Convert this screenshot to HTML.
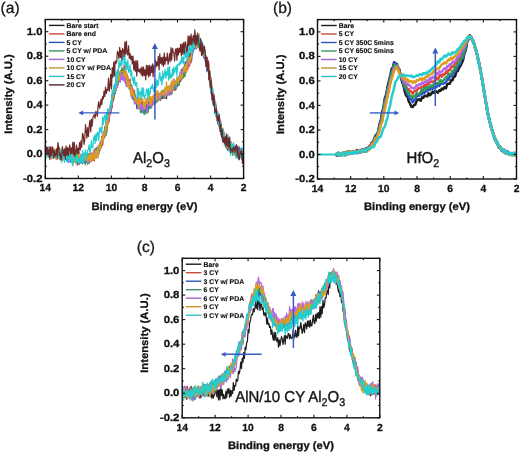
<!DOCTYPE html>
<html><head><meta charset="utf-8"><title>XPS valence band spectra</title>
<style>html,body{margin:0;padding:0;background:#fff;width:520px;height:452px;overflow:hidden}svg{display:block}</style></head><body>
<svg width="520" height="452" viewBox="0 0 520 452">
<style>
text{font-family:"Liberation Sans", sans-serif;fill:#111;text-rendering:geometricPrecision}
.tl{font-size:10.3px;font-weight:bold;stroke:#111;stroke-width:0.3px}
.at{font-size:10.8px;font-weight:bold;stroke:#111;stroke-width:0.3px}
.lg{font-size:6.85px;font-weight:bold;stroke:#111;stroke-width:0.15px}
.pl{font-size:15.6px;fill:#1a1a1a;stroke:#1a1a1a;stroke-width:0.3px}
.ann{font-size:15.7px;fill:#161616;stroke:#161616;stroke-width:0.4px}
</style>
<rect width="520" height="452" fill="#fff"/>
<clipPath id="clipa"><rect x="45.3" y="19.5" width="198.3" height="159.0"/></clipPath>
<clipPath id="clipb"><rect x="317.5" y="19.6" width="199.0" height="159.4"/></clipPath>
<clipPath id="clipc"><rect x="182.2" y="258.3" width="197.6" height="159.5"/></clipPath>
<g clip-path="url(#clipa)"><polyline points="45.3,148.7 46.0,153.7 46.8,147.7 47.5,153.5 48.3,147.8 49.0,153.3 49.8,147.8 50.5,155.0 51.2,151.9 52.0,153.8 52.7,150.3 53.5,158.0 54.2,152.8 55.0,151.4 55.7,157.4 56.5,149.3 57.2,158.8 57.9,150.7 58.7,158.4 59.4,150.4 60.2,151.8 60.9,151.2 61.7,155.0 62.4,152.3 63.1,158.2 63.9,154.5 64.6,159.7 65.4,157.7 66.1,159.6 66.9,155.2 67.6,157.6 68.4,153.2 69.1,161.4 69.8,152.3 70.6,161.6 71.3,153.5 72.1,158.7 72.8,157.6 73.6,160.8 74.3,154.6 75.0,159.2 75.8,156.2 76.5,160.7 77.3,155.7 78.0,163.3 78.8,156.4 79.5,164.1 80.3,155.5 81.0,157.3 81.7,161.4 82.5,157.7 83.2,156.6 84.0,161.9 84.7,162.1 85.5,157.0 86.2,162.2 86.9,160.9 87.7,153.9 88.4,158.8 89.2,154.0 89.9,159.1 90.7,153.5 91.4,159.5 92.1,154.7 92.9,160.1 93.6,152.8 94.4,156.1 95.1,152.6 95.9,155.9 96.6,151.4 97.4,155.5 98.1,152.8 98.8,146.3 99.6,150.2 100.3,143.7 101.1,147.7 101.8,136.3 102.6,136.1 103.3,139.3 104.0,135.1 104.8,134.9 105.5,132.7 106.3,124.9 107.0,128.3 107.8,123.0 108.5,113.0 109.3,113.9 110.0,110.1 110.7,112.2 111.5,106.0 112.2,103.7 113.0,97.9 113.7,97.5 114.5,87.5 115.2,93.5 115.9,82.0 116.7,83.0 117.4,77.2 118.2,78.7 118.9,82.1 119.7,79.1 120.4,71.5 121.1,77.2 121.9,70.9 122.6,76.4 123.4,69.3 124.1,74.2 124.9,71.0 125.6,83.1 126.4,72.0 127.1,77.3 127.8,80.9 128.6,82.1 129.3,87.3 130.1,89.1 130.8,88.0 131.6,85.0 132.3,95.7 133.0,92.3 133.8,91.7 134.5,102.1 135.3,98.9 136.0,103.1 136.8,102.1 137.5,103.2 138.3,107.2 139.0,99.9 139.7,100.6 140.5,108.0 141.2,102.8 142.0,111.0 142.7,102.6 143.5,110.1 144.2,102.4 144.9,113.0 145.7,105.0 146.4,110.5 147.2,104.1 147.9,112.2 148.7,101.9 149.4,98.8 150.2,106.0 150.9,99.0 151.6,103.4 152.4,98.8 153.1,98.5 153.9,102.8 154.6,101.6 155.4,103.0 156.1,97.0 156.8,99.8 157.6,93.8 158.3,97.3 159.1,99.9 159.8,93.4 160.6,96.9 161.3,96.0 162.0,97.7 162.8,91.6 163.5,97.7 164.3,91.3 165.0,98.2 165.8,90.9 166.5,98.4 167.3,90.9 168.0,86.7 168.7,93.5 169.5,86.2 170.2,92.4 171.0,87.6 171.7,93.2 172.5,85.8 173.2,88.9 173.9,85.5 174.7,82.6 175.4,89.9 176.2,86.3 176.9,81.2 177.7,78.9 178.4,83.7 179.2,82.7 179.9,80.2 180.6,81.4 181.4,69.9 182.1,75.3 182.9,70.0 183.6,77.1 184.4,65.7 185.1,66.8 185.8,62.8 186.6,70.0 187.3,64.4 188.1,58.4 188.8,64.8 189.6,53.3 190.3,60.7 191.1,58.4 191.8,47.3 192.5,52.7 193.3,45.7 194.0,49.7 194.8,46.3 195.5,38.8 196.3,48.0 197.0,38.6 197.7,39.4 198.5,46.4 199.2,45.7 200.0,38.3 200.7,49.1 201.5,46.1 202.2,45.6 202.9,51.7 203.7,54.5 204.4,48.7 205.2,58.4 205.9,59.0 206.7,65.5 207.4,62.2 208.2,70.4 208.9,70.9 209.6,70.3 210.4,85.6 211.1,82.9 211.9,92.0 212.6,92.9 213.4,102.9 214.1,100.0 214.8,107.7 215.6,104.3 216.3,113.2 217.1,112.6 217.8,122.1 218.6,125.6 219.3,115.9 220.1,128.9 220.8,125.8 221.5,134.8 222.3,130.2 223.0,139.0 223.8,132.7 224.5,142.7 225.3,138.8 226.0,147.3 226.7,138.2 227.5,149.6 228.2,142.1 229.0,145.7 229.7,141.4 230.5,148.2 231.2,144.8 231.9,150.6 232.7,152.5 233.4,151.1 234.2,152.2 234.9,146.9 235.7,147.4 236.4,154.4 237.2,148.7 237.9,155.2 238.6,149.8 239.4,156.2 240.1,154.4 240.9,154.2 241.6,157.5 242.4,150.1 243.1,155.8" fill="none" stroke="#1c1c1c" stroke-width="1.2" stroke-linejoin="round"/><polyline points="45.3,153.6 46.0,154.1 46.8,148.4 47.5,152.8 48.3,146.9 49.0,155.8 49.8,148.9 50.5,154.5 51.2,146.6 52.0,155.2 52.7,148.2 53.5,156.7 54.2,149.7 55.0,150.4 55.7,154.3 56.5,159.3 57.2,150.8 57.9,148.3 58.7,157.6 59.4,156.6 60.2,153.7 60.9,157.9 61.7,152.4 62.4,155.7 63.1,153.8 63.9,150.7 64.6,152.5 65.4,156.1 66.1,152.8 66.9,159.1 67.6,154.4 68.4,159.9 69.1,152.2 69.8,158.9 70.6,151.6 71.3,159.1 72.1,153.3 72.8,159.9 73.6,153.5 74.3,160.6 75.0,154.4 75.8,162.8 76.5,153.8 77.3,165.5 78.0,154.8 78.8,164.4 79.5,156.1 80.3,159.8 81.0,158.7 81.7,160.4 82.5,156.3 83.2,159.7 84.0,155.8 84.7,162.9 85.5,161.7 86.2,154.5 86.9,159.2 87.7,153.6 88.4,160.0 89.2,163.0 89.9,157.4 90.7,154.5 91.4,158.3 92.1,152.5 92.9,160.6 93.6,155.2 94.4,161.0 95.1,155.7 95.9,148.2 96.6,157.9 97.4,152.4 98.1,154.1 98.8,145.9 99.6,149.2 100.3,142.3 101.1,147.2 101.8,139.0 102.6,145.4 103.3,136.4 104.0,138.9 104.8,129.5 105.5,136.1 106.3,125.8 107.0,131.4 107.8,121.9 108.5,123.0 109.3,120.7 110.0,111.7 110.7,113.6 111.5,104.5 112.2,108.1 113.0,98.4 113.7,100.2 114.5,92.3 115.2,89.1 115.9,90.9 116.7,87.5 117.4,80.7 118.2,82.0 118.9,73.7 119.7,77.2 120.4,70.3 121.1,71.4 121.9,72.4 122.6,68.7 123.4,72.7 124.1,64.8 124.9,69.7 125.6,71.4 126.4,75.3 127.1,74.9 127.8,82.8 128.6,79.9 129.3,84.0 130.1,78.7 130.8,92.1 131.6,94.7 132.3,88.2 133.0,89.0 133.8,96.3 134.5,90.3 135.3,100.7 136.0,97.7 136.8,105.2 137.5,93.5 138.3,103.3 139.0,103.2 139.7,105.2 140.5,97.5 141.2,101.7 142.0,109.4 142.7,100.9 143.5,109.9 144.2,103.4 144.9,102.7 145.7,101.0 146.4,105.9 147.2,98.2 147.9,108.2 148.7,102.6 149.4,106.1 150.2,104.5 150.9,100.8 151.6,102.9 152.4,98.6 153.1,104.4 153.9,97.0 154.6,105.7 155.4,95.6 156.1,101.1 156.8,96.7 157.6,101.2 158.3,95.4 159.1,99.7 159.8,94.4 160.6,100.5 161.3,92.0 162.0,94.6 162.8,98.5 163.5,93.0 164.3,95.7 165.0,88.6 165.8,92.4 166.5,89.8 167.3,93.6 168.0,90.0 168.7,94.9 169.5,86.1 170.2,92.1 171.0,84.2 171.7,94.2 172.5,81.6 173.2,90.1 173.9,82.0 174.7,90.2 175.4,86.8 176.2,82.0 176.9,86.3 177.7,80.3 178.4,83.5 179.2,78.3 179.9,80.8 180.6,75.2 181.4,79.9 182.1,78.6 182.9,72.6 183.6,76.6 184.4,73.4 185.1,66.7 185.8,71.9 186.6,62.0 187.3,70.2 188.1,68.3 188.8,61.4 189.6,66.2 190.3,56.3 191.1,63.0 191.8,54.2 192.5,49.5 193.3,45.3 194.0,49.5 194.8,45.5 195.5,45.5 196.3,48.7 197.0,44.6 197.7,43.4 198.5,43.9 199.2,36.8 200.0,44.6 200.7,45.1 201.5,46.1 202.2,44.1 202.9,54.0 203.7,46.4 204.4,56.7 205.2,54.3 205.9,56.1 206.7,60.9 207.4,57.7 208.2,70.1 208.9,62.7 209.6,75.9 210.4,78.7 211.1,77.5 211.9,86.9 212.6,94.6 213.4,93.4 214.1,97.5 214.8,107.3 215.6,102.2 216.3,110.9 217.1,113.3 217.8,113.1 218.6,118.7 219.3,116.3 220.1,124.5 220.8,121.0 221.5,133.1 222.3,128.7 223.0,136.8 223.8,132.3 224.5,140.1 225.3,136.9 226.0,143.1 226.7,136.8 227.5,146.5 228.2,138.4 229.0,145.8 229.7,142.2 230.5,145.1 231.2,146.4 231.9,144.5 232.7,150.9 233.4,142.9 234.2,151.1 234.9,151.8 235.7,146.6 236.4,154.6 237.2,149.0 237.9,156.8 238.6,149.4 239.4,154.3 240.1,153.5 240.9,151.7 241.6,158.2 242.4,151.9 243.1,158.1" fill="none" stroke="#e0443a" stroke-width="1.2" stroke-linejoin="round"/><polyline points="45.3,152.3 46.0,146.2 46.8,154.8 47.5,148.4 48.3,157.1 49.0,152.4 49.8,147.1 50.5,154.3 51.2,148.4 52.0,152.4 52.7,153.0 53.5,157.2 54.2,152.0 55.0,156.5 55.7,152.5 56.5,158.1 57.2,149.3 57.9,157.5 58.7,150.7 59.4,157.4 60.2,152.3 60.9,155.5 61.7,150.0 62.4,149.6 63.1,157.8 63.9,160.1 64.6,152.1 65.4,156.7 66.1,154.9 66.9,161.1 67.6,158.5 68.4,152.7 69.1,159.0 69.8,153.4 70.6,158.8 71.3,160.3 72.1,155.1 72.8,153.4 73.6,160.4 74.3,161.6 75.0,151.9 75.8,159.6 76.5,162.0 77.3,163.1 78.0,154.8 78.8,161.2 79.5,155.0 80.3,159.4 81.0,154.8 81.7,162.1 82.5,154.9 83.2,162.7 84.0,153.2 84.7,160.6 85.5,155.0 86.2,161.4 86.9,153.7 87.7,161.2 88.4,154.2 89.2,163.4 89.9,159.8 90.7,154.9 91.4,159.1 92.1,159.6 92.9,155.3 93.6,156.3 94.4,149.9 95.1,148.9 95.9,156.2 96.6,148.0 97.4,154.0 98.1,146.8 98.8,154.4 99.6,147.8 100.3,142.0 101.1,147.3 101.8,137.9 102.6,139.0 103.3,133.2 104.0,136.2 104.8,126.7 105.5,128.8 106.3,123.0 107.0,125.4 107.8,115.9 108.5,119.2 109.3,116.0 110.0,113.3 110.7,110.0 111.5,105.1 112.2,94.2 113.0,99.9 113.7,90.0 114.5,95.0 115.2,84.0 115.9,90.6 116.7,77.7 117.4,84.8 118.2,83.6 118.9,73.6 119.7,77.3 120.4,74.6 121.1,79.0 121.9,70.6 122.6,78.4 123.4,80.6 124.1,73.5 124.9,73.0 125.6,79.3 126.4,86.4 127.1,80.8 127.8,85.6 128.6,80.0 129.3,89.1 130.1,86.1 130.8,93.5 131.6,91.8 132.3,99.0 133.0,92.1 133.8,99.9 134.5,96.4 135.3,103.0 136.0,98.4 136.8,108.6 137.5,100.7 138.3,108.8 139.0,103.9 139.7,107.4 140.5,102.5 141.2,111.3 142.0,106.2 142.7,109.4 143.5,108.0 144.2,109.4 144.9,107.3 145.7,111.7 146.4,108.8 147.2,105.3 147.9,109.7 148.7,101.3 149.4,107.7 150.2,101.7 150.9,106.6 151.6,99.9 152.4,105.5 153.1,97.0 153.9,95.8 154.6,97.9 155.4,94.2 156.1,99.9 156.8,96.4 157.6,98.4 158.3,94.3 159.1,98.9 159.8,99.2 160.6,92.4 161.3,96.8 162.0,90.6 162.8,98.7 163.5,98.0 164.3,90.5 165.0,95.5 165.8,88.0 166.5,95.3 167.3,90.0 168.0,89.7 168.7,90.2 169.5,95.1 170.2,86.8 171.0,86.0 171.7,92.0 172.5,83.0 173.2,88.5 173.9,80.8 174.7,89.4 175.4,81.9 176.2,86.5 176.9,79.0 177.7,82.7 178.4,76.8 179.2,79.2 179.9,74.7 180.6,76.8 181.4,76.7 182.1,68.8 182.9,75.3 183.6,69.2 184.4,72.1 185.1,61.8 185.8,63.0 186.6,65.7 187.3,58.8 188.1,57.1 188.8,59.4 189.6,52.8 190.3,62.0 191.1,52.7 191.8,59.9 192.5,43.8 193.3,51.5 194.0,44.2 194.8,48.4 195.5,39.2 196.3,45.7 197.0,40.8 197.7,44.1 198.5,41.2 199.2,43.4 200.0,39.4 200.7,47.6 201.5,45.3 202.2,50.8 202.9,47.3 203.7,58.2 204.4,53.0 205.2,61.1 205.9,57.7 206.7,71.1 207.4,65.1 208.2,72.2 208.9,71.3 209.6,83.3 210.4,82.7 211.1,93.9 211.9,90.0 212.6,96.3 213.4,105.8 214.1,102.0 214.8,109.8 215.6,115.0 216.3,116.8 217.1,114.1 217.8,123.6 218.6,124.1 219.3,126.6 220.1,123.6 220.8,134.5 221.5,128.4 222.3,139.2 223.0,142.2 223.8,133.6 224.5,136.1 225.3,142.2 226.0,137.7 226.7,148.4 227.5,139.0 228.2,150.5 229.0,142.9 229.7,148.7 230.5,142.2 231.2,150.9 231.9,145.4 232.7,152.0 233.4,147.7 234.2,154.8 234.9,154.9 235.7,146.6 236.4,157.4 237.2,150.2 237.9,150.6 238.6,156.4 239.4,147.0 240.1,157.4 240.9,148.5 241.6,159.1 242.4,149.2 243.1,155.0" fill="none" stroke="#2f56c8" stroke-width="1.2" stroke-linejoin="round"/><polyline points="45.3,146.3 46.0,153.5 46.8,147.9 47.5,148.2 48.3,154.5 49.0,155.1 49.8,148.8 50.5,153.0 51.2,155.6 52.0,149.6 52.7,155.5 53.5,150.3 54.2,155.0 55.0,151.6 55.7,154.7 56.5,151.4 57.2,156.6 57.9,152.5 58.7,157.3 59.4,147.7 60.2,152.2 60.9,156.7 61.7,152.0 62.4,154.6 63.1,152.0 63.9,156.9 64.6,153.3 65.4,157.5 66.1,150.8 66.9,157.4 67.6,158.1 68.4,152.7 69.1,160.0 69.8,151.9 70.6,156.1 71.3,159.4 72.1,153.3 72.8,164.2 73.6,159.6 74.3,152.3 75.0,161.0 75.8,156.3 76.5,153.7 77.3,161.3 78.0,156.5 78.8,158.0 79.5,164.0 80.3,158.2 81.0,160.0 81.7,156.8 82.5,163.9 83.2,156.6 84.0,163.0 84.7,154.7 85.5,165.0 86.2,153.4 86.9,154.7 87.7,164.5 88.4,156.1 89.2,158.1 89.9,154.8 90.7,161.4 91.4,154.0 92.1,159.0 92.9,158.4 93.6,155.3 94.4,158.0 95.1,149.4 95.9,156.9 96.6,147.8 97.4,155.6 98.1,153.0 98.8,147.9 99.6,149.5 100.3,145.7 101.1,147.7 101.8,144.9 102.6,137.3 103.3,141.2 104.0,131.4 104.8,129.9 105.5,127.6 106.3,134.8 107.0,129.7 107.8,118.6 108.5,117.6 109.3,116.5 110.0,108.9 110.7,111.8 111.5,102.8 112.2,103.0 113.0,101.1 113.7,95.4 114.5,88.1 115.2,92.3 115.9,85.7 116.7,86.3 117.4,78.4 118.2,84.8 118.9,73.9 119.7,81.2 120.4,72.8 121.1,75.5 121.9,67.6 122.6,75.6 123.4,70.1 124.1,69.8 124.9,75.9 125.6,73.7 126.4,78.1 127.1,79.5 127.8,76.3 128.6,85.0 129.3,86.0 130.1,83.0 130.8,92.9 131.6,85.8 132.3,95.1 133.0,90.9 133.8,99.0 134.5,93.7 135.3,95.8 136.0,103.7 136.8,98.1 137.5,103.8 138.3,101.8 139.0,108.6 139.7,105.3 140.5,112.8 141.2,106.0 142.0,112.7 142.7,104.6 143.5,113.6 144.2,107.3 144.9,114.7 145.7,104.6 146.4,110.5 147.2,113.7 147.9,110.4 148.7,110.1 149.4,102.0 150.2,108.5 150.9,106.8 151.6,98.8 152.4,105.0 153.1,97.6 153.9,102.5 154.6,95.0 155.4,100.0 156.1,95.9 156.8,102.7 157.6,94.2 158.3,100.7 159.1,95.6 159.8,96.9 160.6,92.6 161.3,98.7 162.0,91.8 162.8,90.5 163.5,97.0 164.3,89.0 165.0,92.4 165.8,94.4 166.5,92.1 167.3,95.0 168.0,88.6 168.7,93.2 169.5,89.2 170.2,92.8 171.0,94.6 171.7,88.6 172.5,92.1 173.2,85.9 173.9,84.6 174.7,89.4 175.4,81.5 176.2,88.8 176.9,82.7 177.7,86.8 178.4,78.3 179.2,85.5 179.9,77.5 180.6,80.1 181.4,71.1 182.1,79.2 182.9,72.4 183.6,77.9 184.4,68.7 185.1,76.5 185.8,64.5 186.6,69.1 187.3,60.5 188.1,59.2 188.8,57.3 189.6,62.7 190.3,58.8 191.1,60.4 191.8,50.8 192.5,55.1 193.3,45.3 194.0,45.4 194.8,46.7 195.5,41.5 196.3,39.2 197.0,47.9 197.7,40.5 198.5,43.9 199.2,38.8 200.0,46.0 200.7,41.8 201.5,45.9 202.2,41.9 202.9,45.0 203.7,54.4 204.4,50.0 205.2,58.8 205.9,55.5 206.7,62.3 207.4,60.2 208.2,61.6 208.9,74.1 209.6,72.8 210.4,82.7 211.1,81.2 211.9,90.6 212.6,88.4 213.4,98.4 214.1,97.9 214.8,106.9 215.6,110.9 216.3,106.4 217.1,116.0 217.8,114.9 218.6,121.3 219.3,117.6 220.1,127.2 220.8,124.4 221.5,127.5 222.3,137.6 223.0,132.2 223.8,139.0 224.5,133.9 225.3,142.2 226.0,144.8 226.7,145.9 227.5,146.6 228.2,148.0 229.0,141.4 229.7,149.4 230.5,144.2 231.2,153.0 231.9,146.3 232.7,155.3 233.4,144.0 234.2,146.2 234.9,152.9 235.7,151.1 236.4,156.4 237.2,155.9 237.9,149.8 238.6,153.6 239.4,156.2 240.1,150.7 240.9,149.9 241.6,155.2 242.4,151.6 243.1,158.8" fill="none" stroke="#2e9a5c" stroke-width="1.2" stroke-linejoin="round"/><polyline points="45.3,147.7 46.0,153.3 46.8,149.7 47.5,148.9 48.3,147.8 49.0,155.8 49.8,149.3 50.5,155.4 51.2,147.5 52.0,149.9 52.7,156.7 53.5,150.7 54.2,150.8 55.0,158.0 55.7,158.5 56.5,149.1 57.2,150.3 57.9,149.2 58.7,149.2 59.4,159.7 60.2,151.3 60.9,155.5 61.7,150.5 62.4,159.9 63.1,157.7 63.9,156.0 64.6,152.7 65.4,156.2 66.1,152.7 66.9,157.9 67.6,149.6 68.4,162.2 69.1,162.7 69.8,155.9 70.6,155.4 71.3,159.7 72.1,154.2 72.8,159.4 73.6,152.3 74.3,160.3 75.0,155.4 75.8,162.6 76.5,157.9 77.3,160.7 78.0,153.9 78.8,155.3 79.5,153.0 80.3,163.2 81.0,154.6 81.7,163.5 82.5,155.0 83.2,159.3 84.0,156.5 84.7,161.6 85.5,157.7 86.2,160.3 86.9,155.1 87.7,162.6 88.4,160.0 89.2,154.9 89.9,159.4 90.7,155.3 91.4,161.7 92.1,153.3 92.9,156.3 93.6,153.9 94.4,156.0 95.1,149.6 95.9,151.9 96.6,157.2 97.4,151.7 98.1,145.5 98.8,149.2 99.6,144.9 100.3,149.9 101.1,139.8 101.8,144.2 102.6,135.4 103.3,140.5 104.0,132.2 104.8,134.6 105.5,127.1 106.3,129.3 107.0,120.2 107.8,123.0 108.5,116.4 109.3,118.1 110.0,105.8 110.7,113.6 111.5,101.3 112.2,104.6 113.0,92.7 113.7,92.1 114.5,93.7 115.2,85.6 115.9,90.4 116.7,81.2 117.4,87.7 118.2,77.8 118.9,76.9 119.7,77.0 120.4,82.1 121.1,73.2 121.9,79.3 122.6,73.5 123.4,80.4 124.1,74.7 124.9,82.5 125.6,77.9 126.4,85.6 127.1,78.4 127.8,86.9 128.6,82.9 129.3,88.0 130.1,83.1 130.8,93.3 131.6,88.0 132.3,96.6 133.0,90.3 133.8,95.0 134.5,103.9 135.3,103.6 136.0,97.0 136.8,103.3 137.5,101.6 138.3,108.5 139.0,104.2 139.7,108.7 140.5,102.3 141.2,109.6 142.0,104.4 142.7,111.4 143.5,104.2 144.2,108.9 144.9,103.4 145.7,109.8 146.4,110.1 147.2,113.0 147.9,103.8 148.7,105.5 149.4,102.9 150.2,105.4 150.9,98.7 151.6,108.1 152.4,102.6 153.1,96.4 153.9,102.1 154.6,103.8 155.4,96.3 156.1,98.9 156.8,93.2 157.6,99.3 158.3,93.6 159.1,99.3 159.8,93.8 160.6,92.5 161.3,95.5 162.0,94.4 162.8,92.2 163.5,91.4 164.3,97.8 165.0,87.8 165.8,96.8 166.5,90.2 167.3,94.8 168.0,88.1 168.7,94.3 169.5,93.2 170.2,88.1 171.0,87.6 171.7,91.8 172.5,88.6 173.2,90.5 173.9,80.9 174.7,79.7 175.4,81.3 176.2,89.7 176.9,79.6 177.7,81.6 178.4,78.0 179.2,79.2 179.9,72.3 180.6,80.0 181.4,71.3 182.1,77.1 182.9,67.6 183.6,71.6 184.4,72.9 185.1,65.8 185.8,68.4 186.6,62.3 187.3,62.7 188.1,65.5 188.8,60.0 189.6,61.6 190.3,59.9 191.1,58.7 191.8,50.7 192.5,53.6 193.3,42.6 194.0,48.4 194.8,45.4 195.5,48.8 196.3,42.5 197.0,45.2 197.7,40.3 198.5,43.6 199.2,36.7 200.0,49.8 200.7,42.5 201.5,42.0 202.2,51.5 202.9,56.0 203.7,56.8 204.4,52.1 205.2,58.8 205.9,59.0 206.7,60.4 207.4,61.9 208.2,71.3 208.9,68.1 209.6,73.5 210.4,87.1 211.1,85.8 211.9,94.1 212.6,89.8 213.4,103.5 214.1,98.2 214.8,110.8 215.6,107.6 216.3,115.3 217.1,114.2 217.8,116.9 218.6,117.3 219.3,127.0 220.1,123.1 220.8,131.0 221.5,134.4 222.3,132.1 223.0,135.8 223.8,135.8 224.5,134.8 225.3,137.3 226.0,144.5 226.7,139.9 227.5,145.6 228.2,141.5 229.0,147.0 229.7,143.8 230.5,148.6 231.2,146.3 231.9,149.0 232.7,146.2 233.4,153.7 234.2,149.3 234.9,153.4 235.7,151.0 236.4,153.3 237.2,150.3 237.9,153.0 238.6,151.1 239.4,152.3 240.1,156.0 240.9,150.3 241.6,157.4 242.4,148.9 243.1,148.9" fill="none" stroke="#b466e8" stroke-width="1.2" stroke-linejoin="round"/><polyline points="45.3,146.8 46.0,156.3 46.8,149.0 47.5,156.3 48.3,147.6 49.0,150.9 49.8,157.2 50.5,151.2 51.2,159.2 52.0,157.8 52.7,154.7 53.5,151.6 54.2,157.1 55.0,148.9 55.7,156.5 56.5,158.8 57.2,148.3 57.9,154.7 58.7,157.8 59.4,158.7 60.2,148.9 60.9,156.9 61.7,150.6 62.4,151.3 63.1,160.5 63.9,151.0 64.6,155.8 65.4,153.6 66.1,158.2 66.9,155.8 67.6,157.6 68.4,150.9 69.1,158.5 69.8,149.2 70.6,158.2 71.3,151.3 72.1,151.4 72.8,161.4 73.6,154.4 74.3,161.7 75.0,162.3 75.8,152.6 76.5,162.4 77.3,154.2 78.0,152.8 78.8,161.9 79.5,153.1 80.3,156.7 81.0,156.2 81.7,157.7 82.5,161.9 83.2,156.6 84.0,154.7 84.7,158.9 85.5,153.6 86.2,160.4 86.9,154.0 87.7,161.5 88.4,158.6 89.2,153.4 89.9,162.5 90.7,154.1 91.4,160.9 92.1,154.6 92.9,160.1 93.6,149.5 94.4,159.3 95.1,157.4 95.9,150.5 96.6,156.1 97.4,149.2 98.1,158.1 98.8,145.2 99.6,143.7 100.3,149.9 101.1,144.5 101.8,137.1 102.6,135.1 103.3,143.2 104.0,132.5 104.8,135.4 105.5,124.7 106.3,131.0 107.0,120.6 107.8,124.0 108.5,115.2 109.3,115.3 110.0,107.2 110.7,103.7 111.5,106.0 112.2,97.6 113.0,97.6 113.7,89.7 114.5,92.0 115.2,87.9 115.9,90.0 116.7,80.3 117.4,82.9 118.2,73.9 118.9,80.5 119.7,76.6 120.4,71.1 121.1,71.7 121.9,71.5 122.6,71.3 123.4,71.0 124.1,77.1 124.9,68.9 125.6,77.1 126.4,71.1 127.1,85.7 127.8,76.0 128.6,87.6 129.3,81.7 130.1,90.3 130.8,96.5 131.6,86.7 132.3,94.8 133.0,91.0 133.8,97.5 134.5,95.0 135.3,102.1 136.0,97.7 136.8,100.2 137.5,105.1 138.3,97.3 139.0,108.4 139.7,98.0 140.5,103.5 141.2,97.4 142.0,99.3 142.7,99.0 143.5,106.5 144.2,102.2 144.9,108.1 145.7,98.1 146.4,103.7 147.2,103.8 147.9,98.6 148.7,101.4 149.4,94.5 150.2,105.2 150.9,96.5 151.6,103.7 152.4,96.0 153.1,100.0 153.9,93.9 154.6,102.2 155.4,99.1 156.1,90.9 156.8,100.3 157.6,90.5 158.3,92.2 159.1,93.9 159.8,98.6 160.6,93.7 161.3,90.8 162.0,91.2 162.8,95.4 163.5,94.8 164.3,90.3 165.0,87.6 165.8,97.2 166.5,81.9 167.3,92.6 168.0,87.3 168.7,90.3 169.5,85.0 170.2,92.1 171.0,82.7 171.7,80.9 172.5,91.6 173.2,78.6 173.9,85.8 174.7,81.0 175.4,83.1 176.2,84.2 176.9,77.0 177.7,81.8 178.4,83.1 179.2,76.6 179.9,79.8 180.6,73.6 181.4,79.2 182.1,77.2 182.9,70.8 183.6,71.7 184.4,66.2 185.1,71.7 185.8,63.8 186.6,72.6 187.3,63.9 188.1,60.0 188.8,57.0 189.6,64.1 190.3,56.9 191.1,58.5 191.8,49.8 192.5,51.1 193.3,46.6 194.0,47.7 194.8,43.0 195.5,40.1 196.3,47.4 197.0,42.3 197.7,44.8 198.5,39.1 199.2,34.2 200.0,49.0 200.7,48.3 201.5,45.2 202.2,53.4 202.9,49.9 203.7,55.6 204.4,49.5 205.2,54.9 205.9,56.4 206.7,66.1 207.4,63.4 208.2,70.4 208.9,68.2 209.6,79.2 210.4,78.3 211.1,89.5 211.9,87.4 212.6,99.0 213.4,94.1 214.1,101.8 214.8,109.6 215.6,107.1 216.3,112.9 217.1,111.7 217.8,119.5 218.6,118.2 219.3,128.0 220.1,122.0 220.8,131.2 221.5,127.3 222.3,131.9 223.0,133.1 223.8,131.8 224.5,145.4 225.3,141.8 226.0,139.2 226.7,147.6 227.5,140.3 228.2,148.5 229.0,139.0 229.7,147.4 230.5,144.4 231.2,148.2 231.9,145.5 232.7,152.3 233.4,145.5 234.2,154.8 234.9,148.1 235.7,155.5 236.4,153.7 237.2,149.4 237.9,154.6 238.6,149.8 239.4,155.2 240.1,155.2 240.9,152.0 241.6,150.0 242.4,159.7 243.1,153.0" fill="none" stroke="#dc9c22" stroke-width="1.2" stroke-linejoin="round"/><polyline points="45.3,148.8 46.0,159.0 46.8,151.5 47.5,153.6 48.3,155.0 49.0,151.3 49.8,157.7 50.5,148.6 51.2,149.5 52.0,158.3 52.7,155.6 53.5,151.2 54.2,156.7 55.0,151.0 55.7,154.1 56.5,152.7 57.2,157.4 57.9,152.6 58.7,155.3 59.4,158.2 60.2,159.8 60.9,149.8 61.7,162.4 62.4,150.3 63.1,157.5 63.9,149.4 64.6,162.3 65.4,148.2 66.1,158.6 66.9,152.9 67.6,161.9 68.4,151.7 69.1,156.4 69.8,161.4 70.6,150.5 71.3,162.9 72.1,153.3 72.8,165.9 73.6,158.6 74.3,161.0 75.0,155.2 75.8,152.3 76.5,162.3 77.3,155.3 78.0,162.7 78.8,157.7 79.5,164.0 80.3,161.3 81.0,155.1 81.7,163.1 82.5,150.7 83.2,162.5 84.0,153.5 84.7,155.2 85.5,149.9 86.2,160.8 86.9,154.7 87.7,150.6 88.4,149.4 89.2,144.7 89.9,153.6 90.7,148.6 91.4,140.8 92.1,147.8 92.9,147.2 93.6,138.2 94.4,135.6 95.1,143.5 95.9,133.9 96.6,140.6 97.4,132.1 98.1,132.7 98.8,140.5 99.6,127.9 100.3,131.9 101.1,127.3 101.8,133.4 102.6,117.5 103.3,124.1 104.0,116.7 104.8,115.2 105.5,123.0 106.3,113.0 107.0,119.3 107.8,108.6 108.5,113.4 109.3,109.2 110.0,109.4 110.7,101.2 111.5,105.5 112.2,90.4 113.0,94.9 113.7,86.4 114.5,84.5 115.2,91.6 115.9,71.5 116.7,85.4 117.4,69.5 118.2,76.0 118.9,59.7 119.7,67.4 120.4,65.4 121.1,59.8 121.9,65.9 122.6,56.1 123.4,55.0 124.1,63.4 124.9,54.5 125.6,70.7 126.4,62.2 127.1,69.2 127.8,59.8 128.6,72.3 129.3,71.8 130.1,64.9 130.8,76.0 131.6,70.7 132.3,80.4 133.0,77.5 133.8,83.8 134.5,76.7 135.3,85.9 136.0,83.2 136.8,82.4 137.5,98.6 138.3,88.5 139.0,97.0 139.7,92.8 140.5,91.2 141.2,98.7 142.0,87.8 142.7,96.2 143.5,87.9 144.2,98.8 144.9,95.8 145.7,96.0 146.4,89.0 147.2,89.4 147.9,99.2 148.7,88.4 149.4,94.9 150.2,93.2 150.9,86.8 151.6,88.4 152.4,84.1 153.1,89.1 153.9,91.7 154.6,83.6 155.4,93.2 156.1,79.3 156.8,87.2 157.6,80.6 158.3,85.2 159.1,76.1 159.8,72.4 160.6,80.9 161.3,76.8 162.0,84.7 162.8,71.2 163.5,79.0 164.3,74.9 165.0,69.6 165.8,78.2 166.5,71.7 167.3,75.1 168.0,67.0 168.7,80.1 169.5,66.7 170.2,78.6 171.0,74.3 171.7,77.4 172.5,68.8 173.2,76.0 173.9,67.2 174.7,72.6 175.4,69.3 176.2,65.7 176.9,76.1 177.7,64.6 178.4,64.0 179.2,65.2 179.9,61.9 180.6,64.2 181.4,57.2 182.1,62.7 182.9,57.2 183.6,64.0 184.4,52.8 185.1,49.2 185.8,57.7 186.6,50.3 187.3,59.3 188.1,47.9 188.8,55.4 189.6,42.5 190.3,50.7 191.1,51.8 191.8,43.5 192.5,51.5 193.3,38.8 194.0,48.4 194.8,38.3 195.5,33.3 196.3,42.3 197.0,38.5 197.7,34.8 198.5,47.8 199.2,36.3 200.0,48.5 200.7,50.5 201.5,40.6 202.2,43.4 202.9,54.7 203.7,50.0 204.4,49.3 205.2,59.1 205.9,56.4 206.7,68.6 207.4,61.7 208.2,62.9 208.9,78.8 209.6,70.8 210.4,89.4 211.1,90.3 211.9,89.1 212.6,89.2 213.4,104.2 214.1,96.8 214.8,98.9 215.6,116.2 216.3,110.2 217.1,116.0 217.8,111.6 218.6,125.7 219.3,118.2 220.1,121.3 220.8,133.0 221.5,129.7 222.3,139.9 223.0,128.2 223.8,133.0 224.5,145.2 225.3,137.1 226.0,144.0 226.7,137.3 227.5,142.6 228.2,135.2 229.0,150.9 229.7,142.7 230.5,155.5 231.2,141.5 231.9,153.0 232.7,144.9 233.4,143.3 234.2,152.1 234.9,145.5 235.7,157.1 236.4,148.1 237.2,158.3 237.9,149.6 238.6,160.0 239.4,157.7 240.1,150.5 240.9,157.9 241.6,147.1 242.4,158.8 243.1,155.7" fill="none" stroke="#22cdd0" stroke-width="1.2" stroke-linejoin="round"/><polyline points="45.3,150.5 46.0,146.8 46.8,153.4 47.5,147.6 48.3,154.8 49.0,149.7 49.8,159.3 50.5,147.1 51.2,155.7 52.0,149.6 52.7,147.2 53.5,157.9 54.2,150.5 55.0,156.4 55.7,155.0 56.5,148.8 57.2,157.1 57.9,142.7 58.7,147.6 59.4,155.6 60.2,152.8 60.9,160.0 61.7,157.9 62.4,146.5 63.1,151.7 63.9,155.7 64.6,148.9 65.4,158.4 66.1,145.8 66.9,155.1 67.6,147.6 68.4,155.8 69.1,147.8 69.8,144.9 70.6,154.2 71.3,147.9 72.1,153.5 72.8,142.2 73.6,154.9 74.3,142.3 75.0,156.3 75.8,152.3 76.5,145.0 77.3,153.9 78.0,148.2 78.8,153.4 79.5,142.5 80.3,149.8 81.0,140.9 81.7,147.2 82.5,133.3 83.2,134.8 84.0,144.4 84.7,140.3 85.5,124.7 86.2,130.3 86.9,137.9 87.7,127.7 88.4,136.5 89.2,126.0 89.9,120.3 90.7,131.7 91.4,119.4 92.1,126.2 92.9,117.7 93.6,115.6 94.4,114.6 95.1,118.3 95.9,111.3 96.6,113.2 97.4,116.3 98.1,105.6 98.8,101.6 99.6,108.1 100.3,105.3 101.1,99.2 101.8,104.6 102.6,96.4 103.3,99.0 104.0,91.0 104.8,96.7 105.5,87.2 106.3,93.3 107.0,89.4 107.8,90.3 108.5,78.2 109.3,91.1 110.0,85.6 110.7,74.4 111.5,88.9 112.2,67.6 113.0,77.2 113.7,62.1 114.5,75.9 115.2,60.8 115.9,63.5 116.7,61.7 117.4,51.3 118.2,52.7 118.9,58.5 119.7,47.4 120.4,57.7 121.1,50.3 121.9,59.5 122.6,48.5 123.4,50.8 124.1,56.4 124.9,41.9 125.6,54.2 126.4,41.3 127.1,53.3 127.8,54.9 128.6,45.9 129.3,58.4 130.1,53.6 130.8,59.7 131.6,56.1 132.3,63.9 133.0,56.0 133.8,69.9 134.5,61.4 135.3,71.3 136.0,60.4 136.8,75.9 137.5,60.8 138.3,71.5 139.0,69.5 139.7,72.4 140.5,68.3 141.2,75.0 142.0,66.8 142.7,76.3 143.5,67.0 144.2,75.4 144.9,69.8 145.7,79.8 146.4,65.3 147.2,74.9 147.9,65.3 148.7,77.0 149.4,65.3 150.2,75.6 150.9,66.2 151.6,72.5 152.4,63.8 153.1,76.7 153.9,65.0 154.6,72.0 155.4,60.2 156.1,67.0 156.8,61.8 157.6,65.7 158.3,56.3 159.1,70.0 159.8,53.8 160.6,63.3 161.3,57.6 162.0,65.0 162.8,57.2 163.5,66.3 164.3,53.1 165.0,64.3 165.8,57.6 166.5,60.7 167.3,53.2 168.0,64.3 168.7,60.6 169.5,53.7 170.2,61.8 171.0,47.7 171.7,60.1 172.5,48.3 173.2,51.7 173.9,53.1 174.7,61.0 175.4,49.9 176.2,48.6 176.9,60.3 177.7,48.0 178.4,55.0 179.2,48.3 179.9,52.5 180.6,44.3 181.4,55.8 182.1,43.8 182.9,54.4 183.6,42.5 184.4,53.2 185.1,41.8 185.8,43.3 186.6,51.8 187.3,49.6 188.1,35.9 188.8,45.9 189.6,36.4 190.3,44.6 191.1,34.1 191.8,45.0 192.5,39.3 193.3,35.7 194.0,43.1 194.8,29.8 195.5,45.2 196.3,35.7 197.0,44.9 197.7,33.1 198.5,39.7 199.2,45.7 200.0,51.1 200.7,38.8 201.5,55.4 202.2,43.3 202.9,54.5 203.7,51.7 204.4,46.1 205.2,52.2 205.9,66.4 206.7,57.1 207.4,70.2 208.2,60.9 208.9,79.8 209.6,71.2 210.4,87.6 211.1,80.6 211.9,99.9 212.6,93.3 213.4,104.7 214.1,95.2 214.8,112.9 215.6,110.5 216.3,108.3 217.1,120.9 217.8,116.3 218.6,121.0 219.3,114.3 220.1,131.5 220.8,124.6 221.5,136.6 222.3,129.7 223.0,142.0 223.8,137.4 224.5,143.5 225.3,136.5 226.0,145.6 226.7,133.8 227.5,146.4 228.2,138.1 229.0,148.0 229.7,137.1 230.5,152.4 231.2,150.0 231.9,148.5 232.7,152.2 233.4,147.1 234.2,147.6 234.9,152.6 235.7,147.4 236.4,144.6 237.2,155.9 237.9,146.1 238.6,158.2 239.4,159.5 240.1,151.2 240.9,153.2 241.6,150.7 242.4,163.3 243.1,153.5" fill="none" stroke="#6e2a2a" stroke-width="1.2" stroke-linejoin="round"/></g>
<g clip-path="url(#clipb)"><polyline points="335.7,153.9 337.1,155.2 338.4,153.6 339.7,154.8 341.0,153.4 342.4,153.9 343.7,152.5 345.0,155.3 346.4,152.1 347.7,153.8 349.0,151.3 350.3,153.0 351.7,151.8 353.0,153.0 354.3,151.7 355.6,152.1 357.0,150.0 358.3,152.0 359.6,150.8 360.9,152.0 362.3,150.0 363.6,149.7 364.9,150.6 366.3,148.6 367.6,149.3 368.9,146.5 370.2,145.8 371.6,142.7 372.9,142.3 374.2,138.4 375.5,135.5 376.9,134.5 378.2,131.4 379.5,124.1 380.8,120.5 382.2,111.8 383.5,107.5 384.8,98.5 386.2,94.4 387.5,86.9 388.8,81.6 390.1,76.4 391.5,69.3 392.8,67.6 394.1,62.3 395.4,63.9 396.8,64.1 398.1,69.1 399.4,69.5 400.7,76.5 402.1,81.9 403.4,85.0 404.7,91.4 406.1,95.7 407.4,96.3 408.7,101.3 410.0,103.4 411.4,106.8 412.7,106.9 414.0,105.1 415.3,104.5 416.7,100.8 418.0,99.4 419.3,99.3 420.6,100.8 422.0,97.4 423.3,97.8 424.6,95.7 426.0,95.9 427.3,96.4 428.6,93.3 429.9,95.3 431.3,93.9 432.6,91.6 433.9,92.9 435.2,90.7 436.6,91.9 437.9,92.6 439.2,90.3 440.5,90.8 441.9,88.5 443.2,89.4 444.5,87.2 445.9,88.3 447.2,84.3 448.5,83.7 449.8,83.8 451.2,80.1 452.5,80.3 453.8,76.5 455.1,76.5 456.5,71.4 457.8,71.0 459.1,67.7 460.4,65.9 461.8,63.1 463.1,60.0 464.4,53.3 465.8,49.9 467.1,41.8 468.4,39.2 469.7,35.3 471.1,37.9 472.4,39.7 473.7,42.3 475.0,47.3 476.4,51.3 477.7,57.9 479.0,62.1 480.3,71.0 481.7,76.2 483.0,85.4 484.3,91.9 485.7,102.4 487.0,107.2 488.3,115.6 489.6,120.2 491.0,127.3 492.3,130.2 493.6,135.5 494.9,138.0 496.3,142.2 497.6,143.1 498.9,147.8 500.2,147.1 501.6,150.6 502.9,150.0 504.2,152.5 505.6,151.9 506.9,152.8 508.2,153.1 509.5,152.9 510.9,153.8 512.2,154.0 513.5,154.9 514.8,153.7 516.2,155.3" fill="none" stroke="#1c1c1c" stroke-width="2.5" stroke-linejoin="round"/><polyline points="335.7,153.9 337.1,155.6 338.4,155.3 339.7,153.2 341.0,155.5 342.4,153.4 343.7,154.8 345.0,153.4 346.4,152.5 347.7,154.2 349.0,151.6 350.3,153.7 351.7,151.6 353.0,152.6 354.3,152.4 355.6,151.1 357.0,151.3 358.3,150.8 359.6,152.7 360.9,152.7 362.3,150.1 363.6,150.9 364.9,148.7 366.3,149.4 367.6,150.1 368.9,147.2 370.2,147.5 371.6,143.7 372.9,143.7 374.2,140.0 375.5,138.9 376.9,135.4 378.2,133.1 379.5,127.1 380.8,125.0 382.2,117.0 383.5,112.0 384.8,104.2 386.2,99.5 387.5,92.1 388.8,87.9 390.1,80.5 391.5,75.1 392.8,72.4 394.1,67.1 395.4,66.6 396.8,66.2 398.1,69.5 399.4,70.5 400.7,76.2 402.1,78.2 403.4,82.4 404.7,82.6 406.1,86.8 407.4,88.9 408.7,89.0 410.0,91.6 411.4,91.6 412.7,93.7 414.0,91.7 415.3,90.6 416.7,91.2 418.0,88.4 419.3,88.2 420.6,88.1 422.0,86.7 423.3,87.5 424.6,85.0 426.0,86.1 427.3,83.4 428.6,84.4 429.9,81.8 431.3,81.5 432.6,81.8 433.9,81.3 435.2,80.4 436.6,77.9 437.9,79.5 439.2,76.4 440.5,74.8 441.9,76.8 443.2,74.1 444.5,74.6 445.9,71.7 447.2,73.2 448.5,69.9 449.8,70.1 451.2,67.1 452.5,66.6 453.8,66.8 455.1,63.3 456.5,63.0 457.8,60.1 459.1,59.2 460.4,55.8 461.8,55.5 463.1,51.9 464.4,49.5 465.8,42.9 467.1,41.5 468.4,37.0 469.7,36.4 471.1,36.7 472.4,41.2 473.7,43.6 475.0,46.6 476.4,53.1 477.7,56.8 479.0,63.5 480.3,68.9 481.7,77.5 483.0,84.1 484.3,94.5 485.7,100.1 487.0,109.4 488.3,114.6 489.6,122.0 491.0,126.8 492.3,130.1 493.6,134.1 494.9,139.7 496.3,142.2 497.6,143.2 498.9,146.6 500.2,146.8 501.6,149.6 502.9,150.1 504.2,152.2 505.6,151.8 506.9,153.5 508.2,151.9 509.5,153.9 510.9,154.3 512.2,153.3 513.5,154.3 514.8,153.8 516.2,155.0" fill="none" stroke="#e0443a" stroke-width="2.5" stroke-linejoin="round"/><polyline points="335.7,153.1 337.1,155.8 338.4,152.6 339.7,155.1 341.0,153.6 342.4,154.5 343.7,153.2 345.0,154.2 346.4,154.1 347.7,152.0 349.0,152.8 350.3,152.8 351.7,153.4 353.0,152.1 354.3,151.7 355.6,152.4 357.0,152.2 358.3,150.6 359.6,152.0 360.9,150.1 362.3,149.6 363.6,151.7 364.9,151.5 366.3,148.5 367.6,148.0 368.9,149.1 370.2,147.0 371.6,144.2 372.9,143.6 374.2,139.5 375.5,138.4 376.9,133.8 378.2,131.9 379.5,124.9 380.8,122.1 382.2,114.0 383.5,108.9 384.8,100.8 386.2,96.1 387.5,88.8 388.8,85.0 390.1,76.6 391.5,71.8 392.8,69.1 394.1,63.5 395.4,63.0 396.8,65.4 398.1,67.1 399.4,71.4 400.7,75.0 402.1,80.0 403.4,83.7 404.7,88.8 406.1,90.2 407.4,94.9 408.7,96.0 410.0,99.3 411.4,99.2 412.7,102.2 414.0,100.2 415.3,99.3 416.7,96.3 418.0,95.6 419.3,95.7 420.6,93.2 422.0,94.5 423.3,92.0 424.6,93.0 426.0,90.5 427.3,91.0 428.6,88.9 429.9,89.9 431.3,87.5 432.6,88.9 433.9,86.5 435.2,87.8 436.6,86.9 437.9,85.1 439.2,86.0 440.5,84.2 441.9,83.0 443.2,83.8 444.5,83.2 445.9,82.6 447.2,79.2 448.5,79.7 449.8,76.2 451.2,76.5 452.5,73.5 453.8,73.8 455.1,69.8 456.5,69.9 457.8,65.8 459.1,65.2 460.4,62.6 461.8,57.9 463.1,58.1 464.4,51.6 465.8,48.5 467.1,41.9 468.4,39.9 469.7,37.2 471.1,36.6 472.4,40.8 473.7,41.8 475.0,48.2 476.4,50.9 477.7,58.8 479.0,63.4 480.3,68.5 481.7,78.6 483.0,84.3 484.3,92.0 485.7,101.5 487.0,109.9 488.3,116.1 489.6,121.9 491.0,125.3 492.3,131.7 493.6,134.0 494.9,139.3 496.3,140.7 497.6,142.7 498.9,146.9 500.2,146.7 501.6,150.6 502.9,149.1 504.2,150.2 505.6,152.8 506.9,151.2 508.2,152.5 509.5,154.9 510.9,153.5 512.2,154.1 513.5,154.7 514.8,153.4 516.2,155.0" fill="none" stroke="#2f56c8" stroke-width="2.5" stroke-linejoin="round"/><polyline points="335.7,153.9 337.1,155.6 338.4,153.5 339.7,155.2 341.0,153.7 342.4,153.7 343.7,152.4 345.0,154.4 346.4,151.7 347.7,153.1 349.0,153.6 350.3,153.7 351.7,153.7 353.0,151.5 354.3,153.0 355.6,151.4 357.0,151.1 358.3,151.5 359.6,152.3 360.9,149.9 362.3,149.1 363.6,151.8 364.9,149.1 366.3,151.7 367.6,148.2 368.9,147.9 370.2,147.6 371.6,144.3 372.9,143.3 374.2,138.7 375.5,137.4 376.9,135.9 378.2,132.0 379.5,127.0 380.8,122.9 382.2,116.0 383.5,110.7 384.8,102.5 386.2,97.9 387.5,90.9 388.8,86.1 390.1,78.3 391.5,73.2 392.8,70.0 394.1,64.9 395.4,65.4 396.8,65.2 398.1,67.5 399.4,72.3 400.7,76.2 402.1,78.2 403.4,82.1 404.7,86.5 406.1,87.9 407.4,92.5 408.7,93.0 410.0,95.6 411.4,96.2 412.7,98.2 414.0,95.9 415.3,96.4 416.7,93.3 418.0,94.0 419.3,93.7 420.6,92.2 422.0,89.6 423.3,90.3 424.6,87.7 426.0,89.6 427.3,86.8 428.6,87.8 429.9,86.9 431.3,85.4 432.6,86.4 433.9,83.7 435.2,84.1 436.6,82.9 437.9,83.3 439.2,82.8 440.5,80.0 441.9,82.4 443.2,80.9 444.5,78.8 445.9,77.2 447.2,77.0 448.5,74.1 449.8,74.1 451.2,74.1 452.5,71.0 453.8,70.7 455.1,67.5 456.5,66.7 457.8,63.4 459.1,63.1 460.4,58.8 461.8,58.3 463.1,53.9 464.4,51.5 465.8,44.7 467.1,42.2 468.4,39.5 469.7,36.7 471.1,37.2 472.4,40.3 473.7,43.2 475.0,46.7 476.4,50.7 477.7,57.4 479.0,62.1 480.3,70.2 481.7,76.1 483.0,85.1 484.3,92.4 485.7,99.9 487.0,109.4 488.3,116.4 489.6,120.8 491.0,124.8 492.3,131.7 493.6,134.7 494.9,139.3 496.3,142.1 497.6,145.1 498.9,145.4 500.2,148.2 501.6,148.2 502.9,151.6 504.2,149.6 505.6,153.5 506.9,153.7 508.2,152.5 509.5,154.4 510.9,154.3 512.2,155.2 513.5,152.8 514.8,155.5 516.2,154.6" fill="none" stroke="#2e9a5c" stroke-width="2.5" stroke-linejoin="round"/><polyline points="335.7,153.7 337.1,154.0 338.4,155.4 339.7,153.6 341.0,155.3 342.4,153.9 343.7,155.0 345.0,152.3 346.4,154.0 347.7,152.1 349.0,154.2 350.3,153.7 351.7,151.6 353.0,153.8 354.3,151.2 355.6,152.3 357.0,153.5 358.3,150.9 359.6,150.1 360.9,152.0 362.3,149.6 363.6,151.7 364.9,149.8 366.3,150.3 367.6,148.7 368.9,147.9 370.2,147.9 371.6,144.0 372.9,144.3 374.2,140.7 375.5,138.1 376.9,137.9 378.2,134.1 379.5,130.5 380.8,123.9 382.2,121.1 383.5,112.6 384.8,107.9 386.2,100.2 387.5,96.1 388.8,88.2 390.1,83.7 391.5,78.1 392.8,74.1 394.1,68.2 395.4,67.4 396.8,66.1 398.1,69.9 399.4,73.1 400.7,75.1 402.1,79.1 403.4,79.2 404.7,82.9 406.1,82.3 407.4,84.9 408.7,84.7 410.0,85.6 411.4,87.8 412.7,87.9 414.0,88.6 415.3,87.5 416.7,85.2 418.0,85.7 419.3,84.1 420.6,84.7 422.0,82.8 423.3,83.7 424.6,81.7 426.0,82.1 427.3,80.3 428.6,81.6 429.9,78.1 431.3,79.2 432.6,76.7 433.9,77.7 435.2,76.3 436.6,73.0 437.9,74.5 439.2,71.4 440.5,72.1 441.9,71.4 443.2,69.7 444.5,68.2 445.9,69.4 447.2,66.3 448.5,66.5 449.8,64.2 451.2,64.8 452.5,62.0 453.8,62.1 455.1,61.7 456.5,59.1 457.8,56.6 459.1,56.7 460.4,53.7 461.8,51.8 463.1,48.4 464.4,47.4 465.8,43.0 467.1,41.4 468.4,38.0 469.7,37.3 471.1,36.2 472.4,39.1 473.7,42.6 475.0,48.3 476.4,52.6 477.7,55.6 479.0,63.4 480.3,68.9 481.7,78.1 483.0,83.7 484.3,93.6 485.7,99.8 487.0,109.8 488.3,116.1 489.6,120.4 491.0,127.4 492.3,132.0 493.6,134.0 494.9,138.2 496.3,142.1 497.6,144.3 498.9,147.3 500.2,147.7 501.6,150.3 502.9,149.2 504.2,151.5 505.6,151.4 506.9,153.9 508.2,152.9 509.5,153.8 510.9,153.1 512.2,155.2 513.5,153.1 514.8,152.9 516.2,152.4" fill="none" stroke="#b466e8" stroke-width="2.5" stroke-linejoin="round"/><polyline points="335.7,154.3 337.1,153.3 338.4,154.5 339.7,153.2 341.0,155.4 342.4,152.6 343.7,154.2 345.0,153.0 346.4,154.8 347.7,151.4 349.0,154.1 350.3,152.0 351.7,152.8 353.0,152.1 354.3,152.8 355.6,151.3 357.0,152.0 358.3,150.7 359.6,150.6 360.9,151.7 362.3,150.1 363.6,151.3 364.9,150.0 366.3,150.5 367.6,148.8 368.9,150.3 370.2,146.5 371.6,147.0 372.9,143.4 374.2,143.2 375.5,138.5 376.9,138.1 378.2,134.1 379.5,131.1 380.8,124.6 382.2,122.0 383.5,114.8 384.8,109.2 386.2,103.3 387.5,96.2 388.8,91.6 390.1,84.2 391.5,79.1 392.8,75.4 394.1,70.8 395.4,69.1 396.8,66.9 398.1,69.6 399.4,73.4 400.7,75.0 402.1,76.5 403.4,78.7 404.7,77.7 406.1,80.7 407.4,79.1 408.7,82.1 410.0,81.0 411.4,81.3 412.7,82.9 414.0,81.3 415.3,82.6 416.7,80.1 418.0,80.6 419.3,79.3 420.6,78.4 422.0,80.3 423.3,78.3 424.6,79.6 426.0,76.3 427.3,77.0 428.6,75.5 429.9,74.8 431.3,73.6 432.6,73.4 433.9,70.5 435.2,71.6 436.6,68.5 437.9,68.4 439.2,68.3 440.5,66.2 441.9,64.2 443.2,63.9 444.5,62.4 445.9,63.4 447.2,61.6 448.5,59.4 449.8,60.2 451.2,57.7 452.5,59.3 453.8,56.8 455.1,56.6 456.5,54.4 457.8,54.4 459.1,50.2 460.4,50.3 461.8,47.5 463.1,47.1 464.4,43.0 465.8,42.5 467.1,38.4 468.4,38.4 469.7,36.2 471.1,38.3 472.4,40.5 473.7,43.0 475.0,48.5 476.4,51.0 477.7,57.9 479.0,63.1 480.3,70.8 481.7,75.6 483.0,86.1 484.3,92.0 485.7,101.5 487.0,109.2 488.3,114.7 489.6,121.9 491.0,125.8 492.3,132.1 493.6,134.5 494.9,137.0 496.3,142.3 497.6,142.8 498.9,147.1 500.2,146.8 501.6,149.0 502.9,149.5 504.2,152.4 505.6,151.8 506.9,153.3 508.2,153.0 509.5,153.0 510.9,154.9 512.2,155.4 513.5,153.2 514.8,155.0 516.2,153.6" fill="none" stroke="#dc9c22" stroke-width="2.5" stroke-linejoin="round"/><polyline points="335.7,153.2 337.1,153.5 338.4,154.9 339.7,153.3 341.0,155.3 342.4,155.5 343.7,152.2 345.0,153.0 346.4,154.9 347.7,152.7 349.0,152.9 350.3,153.8 351.7,151.9 353.0,153.7 354.3,151.8 355.6,153.3 357.0,151.8 358.3,152.0 359.6,151.6 360.9,152.4 362.3,149.9 363.6,150.5 364.9,151.6 366.3,149.3 367.6,149.4 368.9,148.0 370.2,148.8 371.6,147.2 372.9,147.2 374.2,146.4 375.5,142.8 376.9,141.7 378.2,138.8 379.5,137.1 380.8,136.6 382.2,131.8 383.5,128.3 384.8,126.5 386.2,121.7 387.5,117.7 388.8,110.1 390.1,105.7 391.5,97.8 392.8,92.8 394.1,88.2 395.4,81.7 396.8,80.0 398.1,77.8 399.4,75.6 400.7,76.0 402.1,75.6 403.4,74.3 404.7,75.7 406.1,75.5 407.4,75.8 408.7,75.7 410.0,76.3 411.4,75.6 412.7,77.3 414.0,76.7 415.3,76.6 416.7,75.3 418.0,75.7 419.3,74.7 420.6,74.2 422.0,75.2 423.3,73.1 424.6,74.0 426.0,72.5 427.3,73.6 428.6,71.1 429.9,71.3 431.3,69.1 432.6,68.4 433.9,66.7 435.2,65.9 436.6,64.2 437.9,61.2 439.2,62.2 440.5,59.0 441.9,59.2 443.2,57.5 444.5,55.6 445.9,56.8 447.2,55.3 448.5,53.5 449.8,54.6 451.2,54.6 452.5,52.2 453.8,53.2 455.1,52.1 456.5,51.3 457.8,49.2 459.1,48.1 460.4,47.2 461.8,44.1 463.1,43.1 464.4,40.7 465.8,40.4 467.1,37.4 468.4,36.6 469.7,37.7 471.1,36.9 472.4,40.6 473.7,42.9 475.0,46.7 476.4,50.8 477.7,56.4 479.0,64.1 480.3,69.4 481.7,77.9 483.0,85.8 484.3,92.3 485.7,102.0 487.0,107.2 488.3,115.9 489.6,120.8 491.0,127.0 492.3,130.1 493.6,136.3 494.9,137.5 496.3,142.5 497.6,142.5 498.9,146.8 500.2,147.6 501.6,149.9 502.9,149.7 504.2,152.0 505.6,151.5 506.9,153.3 508.2,152.3 509.5,154.4 510.9,153.0 512.2,154.7 513.5,153.1 514.8,153.6 516.2,155.7" fill="none" stroke="#22cdd0" stroke-width="2.5" stroke-linejoin="round"/><line x1="317.5" y1="154.5" x2="335.7" y2="154.5" stroke="#22cdd0" stroke-width="2.0"/></g>
<g clip-path="url(#clipc)"><polyline points="182.2,387.9 182.9,389.0 183.7,395.2 184.4,389.9 185.2,397.5 185.9,387.3 186.6,399.1 187.4,397.6 188.1,390.0 188.9,395.6 189.6,388.1 190.4,395.2 191.1,386.3 191.8,394.3 192.6,393.2 193.3,392.9 194.1,399.8 194.8,389.1 195.5,397.2 196.3,393.6 197.0,389.7 197.8,390.5 198.5,394.5 199.2,395.2 200.0,398.2 200.7,387.9 201.5,397.2 202.2,392.2 202.9,390.7 203.7,395.5 204.4,387.6 205.2,395.8 205.9,395.9 206.7,388.1 207.4,386.9 208.1,396.3 208.9,395.0 209.6,389.4 210.4,396.7 211.1,388.3 211.8,398.1 212.6,391.1 213.3,398.2 214.1,395.5 214.8,394.6 215.5,387.3 216.3,391.7 217.0,396.9 217.8,389.9 218.5,399.8 219.2,389.5 220.0,399.9 220.7,387.3 221.5,395.5 222.2,389.9 223.0,399.0 223.7,394.3 224.4,398.4 225.2,398.7 225.9,391.4 226.7,397.6 227.4,389.0 228.1,393.1 228.9,388.3 229.6,397.3 230.4,390.2 231.1,396.3 231.8,390.6 232.6,393.7 233.3,382.5 234.1,390.3 234.8,385.3 235.6,385.9 236.3,379.1 237.0,381.5 237.8,380.4 238.5,371.3 239.3,373.6 240.0,369.7 240.7,362.2 241.5,368.4 242.2,358.3 243.0,362.4 243.7,352.6 244.4,358.4 245.2,347.0 245.9,349.6 246.7,342.4 247.4,341.6 248.1,329.7 248.9,333.0 249.6,323.2 250.4,320.8 251.1,316.1 251.9,314.1 252.6,314.8 253.3,308.6 254.1,312.0 254.8,308.5 255.6,301.2 256.3,308.4 257.0,300.4 257.8,309.8 258.5,298.4 259.3,302.3 260.0,310.4 260.7,303.4 261.5,304.9 262.2,309.7 263.0,307.1 263.7,314.9 264.5,312.8 265.2,316.0 265.9,312.5 266.7,324.0 267.4,318.2 268.2,324.8 268.9,323.3 269.6,327.4 270.4,326.4 271.1,334.4 271.9,329.8 272.6,336.3 273.3,340.2 274.1,332.1 274.8,340.5 275.6,332.6 276.3,339.6 277.0,341.6 277.8,337.6 278.5,347.2 279.3,339.9 280.0,345.6 280.8,340.4 281.5,336.5 282.2,339.0 283.0,344.3 283.7,339.8 284.5,335.6 285.2,344.2 285.9,335.4 286.7,337.3 287.4,338.3 288.2,333.6 288.9,333.6 289.6,338.9 290.4,334.9 291.1,338.1 291.9,338.6 292.6,336.3 293.3,329.3 294.1,337.8 294.8,337.1 295.6,330.3 296.3,336.3 297.1,337.3 297.8,325.9 298.5,335.6 299.3,327.2 300.0,328.6 300.8,322.7 301.5,327.7 302.2,333.4 303.0,330.0 303.7,324.5 304.5,332.6 305.2,322.8 305.9,324.4 306.7,328.9 307.4,321.0 308.2,326.4 308.9,320.5 309.7,327.1 310.4,320.1 311.1,325.6 311.9,325.9 312.6,320.4 313.4,315.1 314.1,322.7 314.8,323.6 315.6,314.5 316.3,321.1 317.1,313.1 317.8,317.8 318.5,312.6 319.3,318.4 320.0,306.6 320.8,317.2 321.5,306.6 322.2,313.6 323.0,300.1 323.7,307.7 324.5,305.1 325.2,297.9 326.0,298.1 326.7,291.9 327.4,290.5 328.2,294.7 328.9,281.8 329.7,288.0 330.4,277.2 331.1,282.3 331.9,277.1 332.6,279.4 333.4,273.8 334.1,281.9 334.8,276.2 335.6,277.1 336.3,284.4 337.1,280.1 337.8,288.6 338.6,292.5 339.3,288.6 340.0,296.6 340.8,291.5 341.5,302.7 342.3,295.6 343.0,310.9 343.7,309.9 344.5,319.9 345.2,320.0 346.0,320.4 346.7,334.0 347.4,335.3 348.2,340.4 348.9,335.6 349.7,350.9 350.4,345.3 351.1,353.5 351.9,349.8 352.6,360.8 353.4,358.3 354.1,358.2 354.9,368.2 355.6,364.3 356.3,375.0 357.1,368.2 357.8,379.5 358.6,374.8 359.3,382.9 360.0,384.3 360.8,383.1 361.5,378.4 362.3,389.5 363.0,383.4 363.7,387.6 364.5,383.1 365.2,390.1 366.0,384.9 366.7,384.3 367.4,393.6 368.2,386.8 368.9,393.4 369.7,394.0 370.4,395.9 371.2,383.5 371.9,392.2 372.6,389.1 373.4,391.7 374.1,388.2 374.9,393.7 375.6,385.8 376.3,395.4 377.1,393.9 377.8,386.2 378.6,391.8 379.3,386.6" fill="none" stroke="#1c1c1c" stroke-width="1.2" stroke-linejoin="round"/><polyline points="182.2,397.2 182.9,387.2 183.7,394.2 184.4,389.0 185.2,389.6 185.9,397.7 186.6,387.8 187.4,386.2 188.1,393.7 188.9,391.0 189.6,397.8 190.4,390.2 191.1,395.7 191.8,389.4 192.6,395.8 193.3,387.9 194.1,396.6 194.8,390.4 195.5,398.1 196.3,396.7 197.0,390.0 197.8,395.2 198.5,386.4 199.2,395.0 200.0,388.7 200.7,391.0 201.5,386.4 202.2,389.7 202.9,384.2 203.7,393.3 204.4,384.3 205.2,386.9 205.9,390.9 206.7,384.3 207.4,390.5 208.1,385.3 208.9,391.6 209.6,386.2 210.4,392.6 211.1,384.8 211.8,388.6 212.6,381.9 213.3,388.7 214.1,387.0 214.8,381.0 215.5,387.7 216.3,381.6 217.0,386.8 217.8,386.4 218.5,384.7 219.2,384.4 220.0,376.0 220.7,381.4 221.5,375.0 222.2,381.6 223.0,375.9 223.7,381.3 224.4,371.8 225.2,381.1 225.9,371.8 226.7,368.1 227.4,375.1 228.1,368.1 228.9,372.9 229.6,366.1 230.4,373.5 231.1,364.2 231.8,367.5 232.6,367.5 233.3,366.4 234.1,360.3 234.8,364.1 235.6,354.6 236.3,359.1 237.0,350.2 237.8,353.9 238.5,348.2 239.3,342.9 240.0,343.2 240.7,346.0 241.5,341.8 242.2,331.9 243.0,339.6 243.7,336.4 244.4,333.4 245.2,324.7 245.9,327.1 246.7,314.5 247.4,318.0 248.1,316.9 248.9,308.8 249.6,302.2 250.4,305.9 251.1,297.7 251.9,294.1 252.6,295.8 253.3,293.4 254.1,297.5 254.8,293.1 255.6,295.7 256.3,287.7 257.0,296.1 257.8,287.8 258.5,294.0 259.3,288.1 260.0,295.5 260.7,292.6 261.5,295.9 262.2,301.8 263.0,293.9 263.7,305.4 264.5,300.7 265.2,304.6 265.9,309.8 266.7,305.8 267.4,309.0 268.2,304.6 268.9,308.9 269.6,316.6 270.4,318.7 271.1,315.7 271.9,314.8 272.6,324.5 273.3,315.5 274.1,323.1 274.8,321.0 275.6,322.8 276.3,320.8 277.0,325.4 277.8,321.5 278.5,329.6 279.3,322.3 280.0,322.4 280.8,329.0 281.5,319.0 282.2,325.9 283.0,321.6 283.7,325.3 284.5,319.6 285.2,324.8 285.9,321.2 286.7,323.7 287.4,323.2 288.2,319.6 288.9,317.3 289.6,322.8 290.4,317.3 291.1,318.9 291.9,318.5 292.6,314.8 293.3,319.8 294.1,315.3 294.8,320.3 295.6,314.0 296.3,308.8 297.1,312.5 297.8,314.0 298.5,313.9 299.3,312.1 300.0,319.0 300.8,310.1 301.5,314.6 302.2,309.5 303.0,313.6 303.7,307.0 304.5,313.6 305.2,306.0 305.9,314.9 306.7,303.8 307.4,305.1 308.2,310.4 308.9,304.2 309.7,312.1 310.4,303.7 311.1,309.4 311.9,303.7 312.6,306.1 313.4,301.1 314.1,302.2 314.8,306.0 315.6,307.5 316.3,297.3 317.1,302.6 317.8,297.2 318.5,292.8 319.3,299.4 320.0,291.8 320.8,297.8 321.5,289.7 322.2,293.0 323.0,293.9 323.7,293.2 324.5,286.3 325.2,289.5 326.0,283.1 326.7,284.4 327.4,279.6 328.2,282.9 328.9,276.4 329.7,278.9 330.4,273.4 331.1,273.3 331.9,279.2 332.6,273.7 333.4,277.5 334.1,273.6 334.8,273.6 335.6,277.4 336.3,278.4 337.1,275.3 337.8,283.1 338.6,280.0 339.3,289.9 340.0,285.3 340.8,294.4 341.5,292.0 342.3,298.7 343.0,304.4 343.7,316.0 344.5,323.7 345.2,322.1 346.0,326.9 346.7,334.0 347.4,339.4 348.2,336.2 348.9,343.9 349.7,344.4 350.4,346.1 351.1,355.2 351.9,353.9 352.6,361.4 353.4,355.4 354.1,365.7 354.9,362.3 355.6,371.1 356.3,375.9 357.1,368.4 357.8,380.3 358.6,375.8 359.3,380.3 360.0,381.9 360.8,377.1 361.5,389.1 362.3,381.5 363.0,387.4 363.7,384.4 364.5,391.6 365.2,384.5 366.0,389.9 366.7,385.5 367.4,391.8 368.2,387.6 368.9,394.6 369.7,388.1 370.4,394.9 371.2,394.0 371.9,387.4 372.6,393.5 373.4,385.9 374.1,394.3 374.9,384.6 375.6,386.0 376.3,386.0 377.1,393.5 377.8,386.9 378.6,393.5 379.3,393.6" fill="none" stroke="#e0443a" stroke-width="1.2" stroke-linejoin="round"/><polyline points="182.2,390.7 182.9,393.0 183.7,390.7 184.4,394.1 185.2,388.1 185.9,394.8 186.6,398.9 187.4,392.0 188.1,393.6 188.9,390.1 189.6,398.6 190.4,395.1 191.1,391.4 191.8,389.5 192.6,394.2 193.3,391.2 194.1,390.4 194.8,391.7 195.5,396.3 196.3,391.7 197.0,395.5 197.8,393.8 198.5,388.7 199.2,390.4 200.0,394.4 200.7,394.0 201.5,387.7 202.2,395.1 202.9,390.4 203.7,387.6 204.4,384.8 205.2,393.3 205.9,389.2 206.7,389.8 207.4,385.4 208.1,390.4 208.9,384.6 209.6,391.9 210.4,385.7 211.1,384.6 211.8,388.5 212.6,384.7 213.3,388.1 214.1,381.9 214.8,389.1 215.5,379.3 216.3,386.4 217.0,382.3 217.8,378.7 218.5,381.8 219.2,385.6 220.0,382.9 220.7,376.7 221.5,376.9 222.2,381.0 223.0,377.3 223.7,380.2 224.4,375.4 225.2,371.2 225.9,371.1 226.7,379.1 227.4,369.7 228.1,377.2 228.9,373.8 229.6,368.6 230.4,371.3 231.1,366.2 231.8,364.9 232.6,369.0 233.3,361.2 234.1,366.0 234.8,362.1 235.6,356.2 236.3,359.2 237.0,351.9 237.8,355.0 238.5,347.1 239.3,341.9 240.0,348.4 240.7,341.7 241.5,341.9 242.2,339.5 243.0,341.1 243.7,337.0 244.4,333.0 245.2,328.6 245.9,324.3 246.7,327.3 247.4,319.8 248.1,313.8 248.9,314.4 249.6,312.4 250.4,307.8 251.1,300.8 251.9,303.2 252.6,299.4 253.3,294.1 254.1,298.4 254.8,290.1 255.6,298.2 256.3,289.2 257.0,297.6 257.8,288.3 258.5,296.7 259.3,290.8 260.0,295.0 260.7,292.6 261.5,300.7 262.2,300.5 263.0,292.8 263.7,299.0 264.5,302.3 265.2,301.4 265.9,306.8 266.7,303.3 267.4,312.8 268.2,306.7 268.9,317.6 269.6,317.9 270.4,312.4 271.1,320.8 271.9,314.7 272.6,321.3 273.3,317.9 274.1,325.6 274.8,316.3 275.6,326.3 276.3,325.3 277.0,328.5 277.8,323.1 278.5,330.0 279.3,322.7 280.0,330.2 280.8,321.8 281.5,330.1 282.2,322.6 283.0,328.2 283.7,325.7 284.5,322.9 285.2,326.4 285.9,320.3 286.7,316.5 287.4,326.7 288.2,317.4 288.9,324.6 289.6,315.7 290.4,323.4 291.1,318.4 291.9,316.8 292.6,317.9 293.3,318.4 294.1,314.6 294.8,318.5 295.6,313.4 296.3,317.0 297.1,315.9 297.8,310.5 298.5,315.6 299.3,311.6 300.0,315.6 300.8,309.3 301.5,315.7 302.2,312.1 303.0,313.8 303.7,311.4 304.5,316.4 305.2,309.6 305.9,307.1 306.7,314.2 307.4,305.6 308.2,314.2 308.9,310.1 309.7,309.7 310.4,302.6 311.1,306.5 311.9,305.2 312.6,305.3 313.4,300.3 314.1,307.5 314.8,300.4 315.6,304.9 316.3,304.9 317.1,299.7 317.8,301.6 318.5,290.4 319.3,298.7 320.0,292.0 320.8,297.1 321.5,293.8 322.2,297.1 323.0,290.4 323.7,293.3 324.5,285.9 325.2,282.4 326.0,290.4 326.7,284.3 327.4,287.8 328.2,276.5 328.9,273.5 329.7,272.9 330.4,274.2 331.1,281.7 331.9,273.9 332.6,280.0 333.4,272.2 334.1,278.0 334.8,272.9 335.6,280.1 336.3,273.1 337.1,273.9 337.8,284.7 338.6,283.9 339.3,283.0 340.0,282.3 340.8,294.5 341.5,291.4 342.3,302.6 343.0,298.2 343.7,309.6 344.5,311.6 345.2,327.3 346.0,323.3 346.7,333.5 347.4,330.8 348.2,342.0 348.9,347.8 349.7,342.6 350.4,348.2 351.1,347.3 351.9,356.7 352.6,353.4 353.4,365.0 354.1,362.2 354.9,362.8 355.6,369.0 356.3,368.5 357.1,374.1 357.8,372.8 358.6,375.1 359.3,378.5 360.0,382.8 360.8,378.0 361.5,386.3 362.3,383.3 363.0,386.2 363.7,385.9 364.5,391.9 365.2,389.9 366.0,384.5 366.7,389.6 367.4,386.9 368.2,392.2 368.9,387.0 369.7,393.5 370.4,387.8 371.2,387.0 371.9,395.0 372.6,382.5 373.4,390.6 374.1,388.9 374.9,385.8 375.6,390.0 376.3,385.8 377.1,390.9 377.8,385.3 378.6,394.1 379.3,387.6" fill="none" stroke="#2f56c8" stroke-width="1.2" stroke-linejoin="round"/><polyline points="182.2,390.2 182.9,393.5 183.7,389.2 184.4,395.9 185.2,390.1 185.9,386.9 186.6,395.3 187.4,390.3 188.1,391.1 188.9,397.9 189.6,396.8 190.4,390.8 191.1,388.3 191.8,396.4 192.6,391.1 193.3,387.4 194.1,393.8 194.8,389.9 195.5,390.8 196.3,394.9 197.0,389.3 197.8,396.3 198.5,396.6 199.2,389.0 200.0,395.5 200.7,393.9 201.5,387.9 202.2,390.9 202.9,386.2 203.7,391.5 204.4,386.9 205.2,393.0 205.9,388.1 206.7,391.9 207.4,391.1 208.1,386.9 208.9,391.0 209.6,383.3 210.4,391.2 211.1,384.6 211.8,388.7 212.6,380.7 213.3,392.3 214.1,381.9 214.8,390.0 215.5,384.4 216.3,381.2 217.0,387.2 217.8,384.6 218.5,379.7 219.2,384.5 220.0,375.8 220.7,380.8 221.5,376.0 222.2,384.2 223.0,379.4 223.7,376.7 224.4,381.1 225.2,372.7 225.9,378.2 226.7,373.9 227.4,377.4 228.1,375.2 228.9,373.7 229.6,366.3 230.4,374.1 231.1,372.3 231.8,368.5 232.6,372.9 233.3,361.0 234.1,365.5 234.8,361.3 235.6,364.3 236.3,359.6 237.0,351.3 237.8,352.3 238.5,354.3 239.3,352.3 240.0,343.6 240.7,348.9 241.5,341.1 242.2,341.1 243.0,344.4 243.7,332.2 244.4,328.7 245.2,331.7 245.9,330.1 246.7,321.8 247.4,320.6 248.1,316.2 248.9,313.3 249.6,314.3 250.4,306.7 251.1,305.2 251.9,301.5 252.6,295.7 253.3,299.4 254.1,292.3 254.8,294.7 255.6,288.8 256.3,291.2 257.0,294.2 257.8,285.9 258.5,293.9 259.3,285.0 260.0,291.1 260.7,286.9 261.5,288.9 262.2,294.5 263.0,290.2 263.7,297.0 264.5,293.8 265.2,306.1 265.9,298.2 266.7,306.9 267.4,305.4 268.2,304.8 268.9,310.6 269.6,317.4 270.4,310.0 271.1,315.7 271.9,315.4 272.6,322.3 273.3,321.1 274.1,317.7 274.8,325.4 275.6,319.9 276.3,325.2 277.0,325.9 277.8,319.8 278.5,323.7 279.3,323.5 280.0,326.1 280.8,322.4 281.5,329.4 282.2,326.6 283.0,321.3 283.7,328.0 284.5,325.4 285.2,325.9 285.9,318.9 286.7,322.3 287.4,322.4 288.2,318.0 288.9,321.4 289.6,316.4 290.4,323.7 291.1,313.3 291.9,319.6 292.6,312.9 293.3,313.6 294.1,314.3 294.8,313.7 295.6,318.7 296.3,313.0 297.1,311.2 297.8,317.2 298.5,315.9 299.3,311.0 300.0,317.1 300.8,310.9 301.5,318.9 302.2,308.2 303.0,312.6 303.7,314.3 304.5,308.3 305.2,313.8 305.9,305.6 306.7,311.3 307.4,310.0 308.2,312.1 308.9,304.2 309.7,310.8 310.4,303.6 311.1,309.6 311.9,299.4 312.6,308.3 313.4,306.3 314.1,308.4 314.8,298.6 315.6,298.2 316.3,304.2 317.1,295.6 317.8,300.6 318.5,293.8 319.3,302.6 320.0,294.1 320.8,300.4 321.5,292.3 322.2,297.8 323.0,285.8 323.7,294.0 324.5,285.4 325.2,288.3 326.0,283.9 326.7,287.4 327.4,281.2 328.2,286.3 328.9,280.8 329.7,281.7 330.4,272.9 331.1,278.7 331.9,271.6 332.6,278.8 333.4,271.3 334.1,278.7 334.8,280.5 335.6,279.1 336.3,281.5 337.1,274.9 337.8,282.1 338.6,275.8 339.3,288.8 340.0,281.0 340.8,291.6 341.5,290.2 342.3,298.4 343.0,299.1 343.7,305.9 344.5,307.2 345.2,322.1 346.0,319.4 346.7,329.8 347.4,330.1 348.2,336.6 348.9,337.3 349.7,345.3 350.4,344.5 351.1,351.6 351.9,349.3 352.6,356.9 353.4,354.9 354.1,367.2 354.9,357.2 355.6,366.9 356.3,362.4 357.1,374.4 357.8,370.7 358.6,378.6 359.3,375.0 360.0,385.2 360.8,384.1 361.5,380.3 362.3,386.9 363.0,382.2 363.7,385.7 364.5,383.6 365.2,382.5 366.0,391.1 366.7,392.1 367.4,386.0 368.2,387.1 368.9,390.4 369.7,393.9 370.4,390.5 371.2,384.5 371.9,394.7 372.6,390.1 373.4,393.8 374.1,387.7 374.9,390.7 375.6,386.3 376.3,392.8 377.1,389.4 377.8,394.9 378.6,383.8 379.3,391.9" fill="none" stroke="#2e9a5c" stroke-width="1.2" stroke-linejoin="round"/><polyline points="182.2,389.1 182.9,397.8 183.7,397.2 184.4,386.1 185.2,396.5 185.9,386.7 186.6,389.5 187.4,393.6 188.1,397.8 188.9,390.7 189.6,396.3 190.4,388.2 191.1,400.1 191.8,390.5 192.6,400.9 193.3,392.9 194.1,388.8 194.8,399.4 195.5,397.7 196.3,387.6 197.0,396.8 197.8,389.3 198.5,387.4 199.2,396.3 200.0,393.2 200.7,387.6 201.5,396.1 202.2,386.6 202.9,394.3 203.7,386.2 204.4,385.1 205.2,384.9 205.9,395.4 206.7,386.5 207.4,394.7 208.1,394.3 208.9,384.8 209.6,391.7 210.4,382.9 211.1,390.8 211.8,383.5 212.6,393.6 213.3,390.3 214.1,388.4 214.8,386.3 215.5,385.4 216.3,382.7 217.0,388.2 217.8,386.4 218.5,376.1 219.2,386.0 220.0,378.7 220.7,387.9 221.5,385.3 222.2,373.6 223.0,375.1 223.7,384.4 224.4,374.6 225.2,377.9 225.9,370.6 226.7,382.0 227.4,371.1 228.1,379.5 228.9,367.6 229.6,370.9 230.4,377.5 231.1,366.9 231.8,370.4 232.6,358.8 233.3,373.6 234.1,359.8 234.8,371.8 235.6,369.4 236.3,367.5 237.0,357.5 237.8,353.3 238.5,356.4 239.3,354.0 240.0,345.4 240.7,341.4 241.5,349.6 242.2,339.8 243.0,341.2 243.7,331.5 244.4,336.8 245.2,336.7 245.9,323.3 246.7,329.0 247.4,318.5 248.1,325.1 248.9,310.4 249.6,313.6 250.4,304.8 251.1,310.1 251.9,298.9 252.6,300.8 253.3,293.5 254.1,291.1 254.8,299.3 255.6,286.6 256.3,282.0 257.0,293.0 257.8,281.1 258.5,277.1 259.3,286.5 260.0,281.6 260.7,283.4 261.5,283.4 262.2,295.1 263.0,286.1 263.7,295.0 264.5,293.4 265.2,301.8 265.9,301.8 266.7,301.5 267.4,308.9 268.2,303.2 268.9,310.5 269.6,306.8 270.4,311.2 271.1,311.5 271.9,316.7 272.6,308.9 273.3,308.6 274.1,322.1 274.8,312.5 275.6,325.8 276.3,314.1 277.0,325.3 277.8,317.1 278.5,325.6 279.3,319.2 280.0,321.2 280.8,324.5 281.5,318.9 282.2,327.5 283.0,317.9 283.7,321.1 284.5,321.3 285.2,316.1 285.9,322.2 286.7,313.0 287.4,324.6 288.2,315.3 288.9,316.4 289.6,306.3 290.4,314.9 291.1,309.7 291.9,317.0 292.6,308.8 293.3,319.3 294.1,306.7 294.8,312.2 295.6,306.9 296.3,317.9 297.1,310.5 297.8,303.5 298.5,312.4 299.3,303.2 300.0,313.3 300.8,305.1 301.5,316.9 302.2,301.7 303.0,313.0 303.7,303.0 304.5,312.2 305.2,312.3 305.9,301.4 306.7,311.0 307.4,302.4 308.2,313.3 308.9,302.9 309.7,308.0 310.4,300.1 311.1,310.6 311.9,301.0 312.6,307.5 313.4,301.4 314.1,308.7 314.8,308.3 315.6,295.1 316.3,304.6 317.1,295.4 317.8,303.1 318.5,295.1 319.3,295.4 320.0,298.6 320.8,300.0 321.5,294.2 322.2,297.0 323.0,290.6 323.7,294.0 324.5,287.7 325.2,286.7 326.0,293.7 326.7,282.0 327.4,289.1 328.2,282.5 328.9,284.3 329.7,275.3 330.4,282.1 331.1,281.9 331.9,273.8 332.6,275.9 333.4,268.4 334.1,273.3 334.8,282.8 335.6,271.8 336.3,279.6 337.1,272.0 337.8,284.4 338.6,275.5 339.3,288.4 340.0,280.5 340.8,289.7 341.5,285.6 342.3,297.6 343.0,291.7 343.7,300.7 344.5,308.1 345.2,310.0 346.0,324.6 346.7,321.8 347.4,336.3 348.2,331.9 348.9,342.9 349.7,337.1 350.4,341.7 351.1,351.8 351.9,347.7 352.6,352.9 353.4,360.2 354.1,361.5 354.9,357.9 355.6,361.0 356.3,367.8 357.1,368.9 357.8,366.5 358.6,377.9 359.3,385.8 360.0,376.5 360.8,386.3 361.5,384.1 362.3,377.1 363.0,379.1 363.7,389.9 364.5,382.2 365.2,390.1 366.0,392.3 366.7,384.0 367.4,391.3 368.2,389.0 368.9,393.5 369.7,385.1 370.4,393.0 371.2,383.3 371.9,390.7 372.6,381.5 373.4,391.6 374.1,394.5 374.9,386.8 375.6,399.0 376.3,385.2 377.1,391.0 377.8,383.8 378.6,391.9 379.3,395.6" fill="none" stroke="#b466e8" stroke-width="1.2" stroke-linejoin="round"/><polyline points="182.2,395.8 182.9,390.7 183.7,395.5 184.4,388.6 185.2,394.3 185.9,396.8 186.6,391.5 187.4,398.8 188.1,396.8 188.9,391.8 189.6,398.1 190.4,388.6 191.1,396.7 191.8,390.2 192.6,396.3 193.3,391.0 194.1,389.0 194.8,396.2 195.5,385.7 196.3,397.2 197.0,389.9 197.8,390.2 198.5,397.2 199.2,386.3 200.0,394.7 200.7,391.3 201.5,388.8 202.2,385.1 202.9,392.0 203.7,385.5 204.4,394.6 205.2,386.7 205.9,396.3 206.7,386.1 207.4,394.0 208.1,384.6 208.9,390.8 209.6,394.8 210.4,395.8 211.1,387.4 211.8,384.9 212.6,393.0 213.3,384.2 214.1,388.3 214.8,384.2 215.5,390.8 216.3,381.4 217.0,386.0 217.8,385.2 218.5,379.3 219.2,386.6 220.0,383.4 220.7,381.4 221.5,376.9 222.2,384.6 223.0,373.3 223.7,378.9 224.4,380.2 225.2,372.0 225.9,378.9 226.7,372.4 227.4,377.3 228.1,366.2 228.9,378.0 229.6,368.7 230.4,372.4 231.1,363.0 231.8,372.9 232.6,363.2 233.3,369.1 234.1,362.6 234.8,364.1 235.6,364.3 236.3,356.2 237.0,358.8 237.8,348.5 238.5,344.8 239.3,345.1 240.0,352.7 240.7,340.3 241.5,344.2 242.2,337.8 243.0,338.5 243.7,329.6 244.4,333.4 245.2,324.8 245.9,322.5 246.7,325.1 247.4,324.4 248.1,314.7 248.9,317.7 249.6,301.9 250.4,308.7 251.1,300.7 251.9,302.6 252.6,293.5 253.3,299.5 254.1,288.7 254.8,295.8 255.6,285.2 256.3,291.4 257.0,284.1 257.8,289.6 258.5,283.2 259.3,287.4 260.0,287.3 260.7,286.4 261.5,293.7 262.2,287.4 263.0,295.1 263.7,290.6 264.5,305.0 265.2,300.1 265.9,300.8 266.7,309.8 267.4,304.9 268.2,303.2 268.9,311.6 269.6,308.5 270.4,316.0 271.1,311.4 271.9,320.8 272.6,315.8 273.3,321.2 274.1,319.2 274.8,324.6 275.6,317.9 276.3,329.7 277.0,320.8 277.8,327.4 278.5,329.1 279.3,321.4 280.0,326.0 280.8,319.4 281.5,320.6 282.2,328.2 283.0,323.2 283.7,318.6 284.5,323.4 285.2,318.7 285.9,325.1 286.7,317.8 287.4,324.1 288.2,316.7 288.9,323.5 289.6,311.6 290.4,320.1 291.1,314.9 291.9,311.0 292.6,319.5 293.3,318.8 294.1,312.5 294.8,313.2 295.6,318.9 296.3,310.6 297.1,315.4 297.8,308.4 298.5,318.2 299.3,305.5 300.0,315.9 300.8,303.7 301.5,316.1 302.2,314.0 303.0,307.7 303.7,311.1 304.5,309.5 305.2,304.5 305.9,309.7 306.7,304.0 307.4,311.0 308.2,301.4 308.9,311.7 309.7,304.2 310.4,309.2 311.1,303.9 311.9,306.9 312.6,304.0 313.4,305.5 314.1,298.8 314.8,307.5 315.6,299.4 316.3,294.1 317.1,297.2 317.8,292.9 318.5,302.4 319.3,293.7 320.0,298.3 320.8,297.1 321.5,288.3 322.2,296.5 323.0,290.5 323.7,296.4 324.5,287.1 325.2,294.5 326.0,290.7 326.7,281.9 327.4,285.1 328.2,276.0 328.9,282.0 329.7,273.8 330.4,281.3 331.1,274.8 331.9,277.9 332.6,272.1 333.4,280.5 334.1,269.9 334.8,280.6 335.6,280.9 336.3,273.5 337.1,283.5 337.8,283.4 338.6,276.9 339.3,287.4 340.0,285.1 340.8,291.9 341.5,286.4 342.3,301.2 343.0,303.0 343.7,304.5 344.5,318.7 345.2,320.5 346.0,322.2 346.7,332.4 347.4,328.9 348.2,331.5 348.9,348.8 349.7,346.0 350.4,343.3 351.1,350.0 351.9,351.2 352.6,359.5 353.4,353.6 354.1,356.8 354.9,359.3 355.6,367.1 356.3,366.2 357.1,377.6 357.8,372.6 358.6,378.4 359.3,374.8 360.0,384.8 360.8,378.8 361.5,390.8 362.3,382.5 363.0,393.5 363.7,380.1 364.5,391.0 365.2,380.6 366.0,391.2 366.7,382.8 367.4,386.1 368.2,391.0 368.9,385.1 369.7,389.8 370.4,387.8 371.2,393.6 371.9,385.4 372.6,392.5 373.4,385.1 374.1,386.3 374.9,386.2 375.6,390.8 376.3,395.6 377.1,387.0 377.8,391.5 378.6,392.6 379.3,386.8" fill="none" stroke="#dc9c22" stroke-width="1.2" stroke-linejoin="round"/><polyline points="182.2,392.5 182.9,386.4 183.7,400.3 184.4,392.1 185.2,390.8 185.9,395.1 186.6,396.9 187.4,389.8 188.1,395.3 188.9,391.7 189.6,396.9 190.4,390.1 191.1,399.1 191.8,389.4 192.6,396.9 193.3,393.3 194.1,387.1 194.8,386.1 195.5,399.3 196.3,388.6 197.0,392.6 197.8,385.8 198.5,394.9 199.2,390.6 200.0,393.2 200.7,386.6 201.5,394.4 202.2,392.9 202.9,382.1 203.7,388.9 204.4,397.0 205.2,384.9 205.9,384.5 206.7,394.8 207.4,383.1 208.1,388.0 208.9,392.0 209.6,386.1 210.4,381.5 211.1,393.1 211.8,380.9 212.6,379.1 213.3,382.4 214.1,390.5 214.8,380.7 215.5,387.6 216.3,378.1 217.0,386.6 217.8,379.2 218.5,377.7 219.2,383.7 220.0,380.5 220.7,377.3 221.5,381.6 222.2,374.9 223.0,382.3 223.7,373.9 224.4,380.3 225.2,372.0 225.9,380.2 226.7,366.7 227.4,373.8 228.1,369.8 228.9,376.0 229.6,371.0 230.4,368.9 231.1,368.4 231.8,366.1 232.6,369.5 233.3,361.0 234.1,364.1 234.8,355.4 235.6,360.4 236.3,350.5 237.0,356.8 237.8,346.3 238.5,353.4 239.3,341.8 240.0,348.1 240.7,347.0 241.5,339.1 242.2,340.5 243.0,331.3 243.7,329.3 244.4,333.6 245.2,322.7 245.9,324.2 246.7,314.0 247.4,319.2 248.1,315.0 248.9,307.4 249.6,303.7 250.4,309.2 251.1,301.9 251.9,306.1 252.6,296.9 253.3,305.7 254.1,295.2 254.8,301.7 255.6,288.9 256.3,302.8 257.0,290.4 257.8,298.6 258.5,301.2 259.3,295.4 260.0,302.0 260.7,303.0 261.5,301.9 262.2,294.3 263.0,304.6 263.7,302.8 264.5,307.7 265.2,300.8 265.9,311.4 266.7,302.1 267.4,314.0 268.2,308.2 268.9,317.6 269.6,315.0 270.4,319.7 271.1,313.4 271.9,314.1 272.6,327.7 273.3,318.4 274.1,323.7 274.8,325.2 275.6,322.7 276.3,324.5 277.0,324.8 277.8,334.0 278.5,324.6 279.3,332.1 280.0,324.6 280.8,331.2 281.5,323.7 282.2,331.2 283.0,323.8 283.7,325.0 284.5,328.1 285.2,334.3 285.9,323.2 286.7,329.6 287.4,332.0 288.2,323.3 288.9,330.3 289.6,328.5 290.4,319.4 291.1,329.0 291.9,324.8 292.6,315.1 293.3,323.4 294.1,318.7 294.8,326.8 295.6,314.6 296.3,323.5 297.1,316.8 297.8,325.7 298.5,312.5 299.3,312.7 300.0,318.1 300.8,309.7 301.5,318.3 302.2,314.4 303.0,320.9 303.7,310.3 304.5,317.8 305.2,311.0 305.9,319.1 306.7,308.2 307.4,312.6 308.2,317.4 308.9,310.9 309.7,314.9 310.4,305.9 311.1,314.3 311.9,305.1 312.6,309.2 313.4,303.2 314.1,307.9 314.8,299.0 315.6,306.3 316.3,308.3 317.1,296.1 317.8,304.9 318.5,297.4 319.3,293.3 320.0,303.4 320.8,293.9 321.5,295.8 322.2,288.1 323.0,291.0 323.7,285.3 324.5,286.6 325.2,291.0 326.0,279.0 326.7,280.7 327.4,281.3 328.2,283.4 328.9,272.0 329.7,282.4 330.4,274.9 331.1,282.5 331.9,279.7 332.6,271.4 333.4,282.2 334.1,281.1 334.8,272.9 335.6,284.1 336.3,276.1 337.1,278.2 337.8,279.4 338.6,286.1 339.3,280.8 340.0,292.4 340.8,285.9 341.5,296.9 342.3,294.7 343.0,307.5 343.7,304.1 344.5,323.2 345.2,320.2 346.0,330.3 346.7,330.5 347.4,336.8 348.2,338.5 348.9,347.2 349.7,341.5 350.4,355.2 351.1,348.1 351.9,357.4 352.6,356.8 353.4,364.5 354.1,369.0 354.9,361.0 355.6,374.9 356.3,371.7 357.1,372.7 357.8,378.2 358.6,375.3 359.3,381.3 360.0,377.7 360.8,384.9 361.5,381.5 362.3,379.2 363.0,388.7 363.7,381.6 364.5,392.6 365.2,393.2 366.0,385.7 366.7,395.3 367.4,385.6 368.2,394.5 368.9,384.7 369.7,393.8 370.4,386.7 371.2,392.9 371.9,387.5 372.6,393.8 373.4,393.5 374.1,386.6 374.9,391.7 375.6,387.7 376.3,394.7 377.1,389.2 377.8,392.8 378.6,392.1 379.3,385.5" fill="none" stroke="#22cdd0" stroke-width="1.2" stroke-linejoin="round"/></g>
<rect x="45.3" y="19.5" width="198.3" height="159.0" fill="none" stroke="#111" stroke-width="1.4"/>
<line x1="243.6" y1="178.5" x2="243.6" y2="175.5" stroke="#111" stroke-width="1.1"/>
<line x1="243.6" y1="19.5" x2="243.6" y2="22.5" stroke="#111" stroke-width="1.1"/>
<line x1="227.1" y1="178.5" x2="227.1" y2="176.9" stroke="#111" stroke-width="1.1"/>
<line x1="227.1" y1="19.5" x2="227.1" y2="21.1" stroke="#111" stroke-width="1.1"/>
<line x1="210.6" y1="178.5" x2="210.6" y2="175.5" stroke="#111" stroke-width="1.1"/>
<line x1="210.6" y1="19.5" x2="210.6" y2="22.5" stroke="#111" stroke-width="1.1"/>
<line x1="194.0" y1="178.5" x2="194.0" y2="176.9" stroke="#111" stroke-width="1.1"/>
<line x1="194.0" y1="19.5" x2="194.0" y2="21.1" stroke="#111" stroke-width="1.1"/>
<line x1="177.5" y1="178.5" x2="177.5" y2="175.5" stroke="#111" stroke-width="1.1"/>
<line x1="177.5" y1="19.5" x2="177.5" y2="22.5" stroke="#111" stroke-width="1.1"/>
<line x1="161.0" y1="178.5" x2="161.0" y2="176.9" stroke="#111" stroke-width="1.1"/>
<line x1="161.0" y1="19.5" x2="161.0" y2="21.1" stroke="#111" stroke-width="1.1"/>
<line x1="144.5" y1="178.5" x2="144.5" y2="175.5" stroke="#111" stroke-width="1.1"/>
<line x1="144.5" y1="19.5" x2="144.5" y2="22.5" stroke="#111" stroke-width="1.1"/>
<line x1="127.9" y1="178.5" x2="127.9" y2="176.9" stroke="#111" stroke-width="1.1"/>
<line x1="127.9" y1="19.5" x2="127.9" y2="21.1" stroke="#111" stroke-width="1.1"/>
<line x1="111.4" y1="178.5" x2="111.4" y2="175.5" stroke="#111" stroke-width="1.1"/>
<line x1="111.4" y1="19.5" x2="111.4" y2="22.5" stroke="#111" stroke-width="1.1"/>
<line x1="94.9" y1="178.5" x2="94.9" y2="176.9" stroke="#111" stroke-width="1.1"/>
<line x1="94.9" y1="19.5" x2="94.9" y2="21.1" stroke="#111" stroke-width="1.1"/>
<line x1="78.3" y1="178.5" x2="78.3" y2="175.5" stroke="#111" stroke-width="1.1"/>
<line x1="78.3" y1="19.5" x2="78.3" y2="22.5" stroke="#111" stroke-width="1.1"/>
<line x1="61.8" y1="178.5" x2="61.8" y2="176.9" stroke="#111" stroke-width="1.1"/>
<line x1="61.8" y1="19.5" x2="61.8" y2="21.1" stroke="#111" stroke-width="1.1"/>
<line x1="45.3" y1="178.5" x2="45.3" y2="175.5" stroke="#111" stroke-width="1.1"/>
<line x1="45.3" y1="19.5" x2="45.3" y2="22.5" stroke="#111" stroke-width="1.1"/>
<line x1="45.3" y1="178.5" x2="48.3" y2="178.5" stroke="#111" stroke-width="1.1"/>
<line x1="243.6" y1="178.5" x2="240.6" y2="178.5" stroke="#111" stroke-width="1.1"/>
<line x1="45.3" y1="166.3" x2="46.9" y2="166.3" stroke="#111" stroke-width="1.1"/>
<line x1="243.6" y1="166.3" x2="242.0" y2="166.3" stroke="#111" stroke-width="1.1"/>
<line x1="45.3" y1="154.0" x2="48.3" y2="154.0" stroke="#111" stroke-width="1.1"/>
<line x1="243.6" y1="154.0" x2="240.6" y2="154.0" stroke="#111" stroke-width="1.1"/>
<line x1="45.3" y1="141.8" x2="46.9" y2="141.8" stroke="#111" stroke-width="1.1"/>
<line x1="243.6" y1="141.8" x2="242.0" y2="141.8" stroke="#111" stroke-width="1.1"/>
<line x1="45.3" y1="129.6" x2="48.3" y2="129.6" stroke="#111" stroke-width="1.1"/>
<line x1="243.6" y1="129.6" x2="240.6" y2="129.6" stroke="#111" stroke-width="1.1"/>
<line x1="45.3" y1="117.3" x2="46.9" y2="117.3" stroke="#111" stroke-width="1.1"/>
<line x1="243.6" y1="117.3" x2="242.0" y2="117.3" stroke="#111" stroke-width="1.1"/>
<line x1="45.3" y1="105.1" x2="48.3" y2="105.1" stroke="#111" stroke-width="1.1"/>
<line x1="243.6" y1="105.1" x2="240.6" y2="105.1" stroke="#111" stroke-width="1.1"/>
<line x1="45.3" y1="92.9" x2="46.9" y2="92.9" stroke="#111" stroke-width="1.1"/>
<line x1="243.6" y1="92.9" x2="242.0" y2="92.9" stroke="#111" stroke-width="1.1"/>
<line x1="45.3" y1="80.7" x2="48.3" y2="80.7" stroke="#111" stroke-width="1.1"/>
<line x1="243.6" y1="80.7" x2="240.6" y2="80.7" stroke="#111" stroke-width="1.1"/>
<line x1="45.3" y1="68.4" x2="46.9" y2="68.4" stroke="#111" stroke-width="1.1"/>
<line x1="243.6" y1="68.4" x2="242.0" y2="68.4" stroke="#111" stroke-width="1.1"/>
<line x1="45.3" y1="56.2" x2="48.3" y2="56.2" stroke="#111" stroke-width="1.1"/>
<line x1="243.6" y1="56.2" x2="240.6" y2="56.2" stroke="#111" stroke-width="1.1"/>
<line x1="45.3" y1="44.0" x2="46.9" y2="44.0" stroke="#111" stroke-width="1.1"/>
<line x1="243.6" y1="44.0" x2="242.0" y2="44.0" stroke="#111" stroke-width="1.1"/>
<line x1="45.3" y1="31.7" x2="48.3" y2="31.7" stroke="#111" stroke-width="1.1"/>
<line x1="243.6" y1="31.7" x2="240.6" y2="31.7" stroke="#111" stroke-width="1.1"/>
<line x1="45.3" y1="19.5" x2="46.9" y2="19.5" stroke="#111" stroke-width="1.1"/>
<line x1="243.6" y1="19.5" x2="242.0" y2="19.5" stroke="#111" stroke-width="1.1"/>
<text x="243.6" y="191.2" text-anchor="middle" class="tl">2</text>
<text x="210.6" y="191.2" text-anchor="middle" class="tl">4</text>
<text x="177.5" y="191.2" text-anchor="middle" class="tl">6</text>
<text x="144.5" y="191.2" text-anchor="middle" class="tl">8</text>
<text x="111.4" y="191.2" text-anchor="middle" class="tl">10</text>
<text x="78.3" y="191.2" text-anchor="middle" class="tl">12</text>
<text x="45.3" y="191.2" text-anchor="middle" class="tl">14</text>
<text transform="translate(42.5,181.6) scale(1.1,1)" text-anchor="end" class="tl">-0.2</text>
<text transform="translate(42.5,157.1) scale(1.1,1)" text-anchor="end" class="tl">0.0</text>
<text transform="translate(42.5,132.6) scale(1.1,1)" text-anchor="end" class="tl">0.2</text>
<text transform="translate(42.5,108.2) scale(1.1,1)" text-anchor="end" class="tl">0.4</text>
<text transform="translate(42.5,83.7) scale(1.1,1)" text-anchor="end" class="tl">0.6</text>
<text transform="translate(42.5,59.2) scale(1.1,1)" text-anchor="end" class="tl">0.8</text>
<text transform="translate(42.5,34.8) scale(1.1,1)" text-anchor="end" class="tl">1.0</text>
<text x="144.4" y="209.9" text-anchor="middle" class="at" textLength="106" lengthAdjust="spacingAndGlyphs">Binding energy (eV)</text>
<text transform="translate(11.5,94.0) rotate(-90)" text-anchor="middle" class="at" textLength="79.5" lengthAdjust="spacingAndGlyphs">Intensity (A.U.)</text>
<rect x="317.5" y="19.6" width="199.0" height="159.4" fill="none" stroke="#111" stroke-width="1.4"/>
<line x1="516.5" y1="179.0" x2="516.5" y2="176.0" stroke="#111" stroke-width="1.1"/>
<line x1="516.5" y1="19.6" x2="516.5" y2="22.6" stroke="#111" stroke-width="1.1"/>
<line x1="499.9" y1="179.0" x2="499.9" y2="177.4" stroke="#111" stroke-width="1.1"/>
<line x1="499.9" y1="19.6" x2="499.9" y2="21.200000000000003" stroke="#111" stroke-width="1.1"/>
<line x1="483.3" y1="179.0" x2="483.3" y2="176.0" stroke="#111" stroke-width="1.1"/>
<line x1="483.3" y1="19.6" x2="483.3" y2="22.6" stroke="#111" stroke-width="1.1"/>
<line x1="466.8" y1="179.0" x2="466.8" y2="177.4" stroke="#111" stroke-width="1.1"/>
<line x1="466.8" y1="19.6" x2="466.8" y2="21.200000000000003" stroke="#111" stroke-width="1.1"/>
<line x1="450.2" y1="179.0" x2="450.2" y2="176.0" stroke="#111" stroke-width="1.1"/>
<line x1="450.2" y1="19.6" x2="450.2" y2="22.6" stroke="#111" stroke-width="1.1"/>
<line x1="433.6" y1="179.0" x2="433.6" y2="177.4" stroke="#111" stroke-width="1.1"/>
<line x1="433.6" y1="19.6" x2="433.6" y2="21.200000000000003" stroke="#111" stroke-width="1.1"/>
<line x1="417.0" y1="179.0" x2="417.0" y2="176.0" stroke="#111" stroke-width="1.1"/>
<line x1="417.0" y1="19.6" x2="417.0" y2="22.6" stroke="#111" stroke-width="1.1"/>
<line x1="400.4" y1="179.0" x2="400.4" y2="177.4" stroke="#111" stroke-width="1.1"/>
<line x1="400.4" y1="19.6" x2="400.4" y2="21.200000000000003" stroke="#111" stroke-width="1.1"/>
<line x1="383.8" y1="179.0" x2="383.8" y2="176.0" stroke="#111" stroke-width="1.1"/>
<line x1="383.8" y1="19.6" x2="383.8" y2="22.6" stroke="#111" stroke-width="1.1"/>
<line x1="367.2" y1="179.0" x2="367.2" y2="177.4" stroke="#111" stroke-width="1.1"/>
<line x1="367.2" y1="19.6" x2="367.2" y2="21.200000000000003" stroke="#111" stroke-width="1.1"/>
<line x1="350.7" y1="179.0" x2="350.7" y2="176.0" stroke="#111" stroke-width="1.1"/>
<line x1="350.7" y1="19.6" x2="350.7" y2="22.6" stroke="#111" stroke-width="1.1"/>
<line x1="334.1" y1="179.0" x2="334.1" y2="177.4" stroke="#111" stroke-width="1.1"/>
<line x1="334.1" y1="19.6" x2="334.1" y2="21.200000000000003" stroke="#111" stroke-width="1.1"/>
<line x1="317.5" y1="179.0" x2="317.5" y2="176.0" stroke="#111" stroke-width="1.1"/>
<line x1="317.5" y1="19.6" x2="317.5" y2="22.6" stroke="#111" stroke-width="1.1"/>
<line x1="317.5" y1="179.0" x2="320.5" y2="179.0" stroke="#111" stroke-width="1.1"/>
<line x1="516.5" y1="179.0" x2="513.5" y2="179.0" stroke="#111" stroke-width="1.1"/>
<line x1="317.5" y1="166.7" x2="319.1" y2="166.7" stroke="#111" stroke-width="1.1"/>
<line x1="516.5" y1="166.7" x2="514.9" y2="166.7" stroke="#111" stroke-width="1.1"/>
<line x1="317.5" y1="154.5" x2="320.5" y2="154.5" stroke="#111" stroke-width="1.1"/>
<line x1="516.5" y1="154.5" x2="513.5" y2="154.5" stroke="#111" stroke-width="1.1"/>
<line x1="317.5" y1="142.2" x2="319.1" y2="142.2" stroke="#111" stroke-width="1.1"/>
<line x1="516.5" y1="142.2" x2="514.9" y2="142.2" stroke="#111" stroke-width="1.1"/>
<line x1="317.5" y1="130.0" x2="320.5" y2="130.0" stroke="#111" stroke-width="1.1"/>
<line x1="516.5" y1="130.0" x2="513.5" y2="130.0" stroke="#111" stroke-width="1.1"/>
<line x1="317.5" y1="117.7" x2="319.1" y2="117.7" stroke="#111" stroke-width="1.1"/>
<line x1="516.5" y1="117.7" x2="514.9" y2="117.7" stroke="#111" stroke-width="1.1"/>
<line x1="317.5" y1="105.4" x2="320.5" y2="105.4" stroke="#111" stroke-width="1.1"/>
<line x1="516.5" y1="105.4" x2="513.5" y2="105.4" stroke="#111" stroke-width="1.1"/>
<line x1="317.5" y1="93.2" x2="319.1" y2="93.2" stroke="#111" stroke-width="1.1"/>
<line x1="516.5" y1="93.2" x2="514.9" y2="93.2" stroke="#111" stroke-width="1.1"/>
<line x1="317.5" y1="80.9" x2="320.5" y2="80.9" stroke="#111" stroke-width="1.1"/>
<line x1="516.5" y1="80.9" x2="513.5" y2="80.9" stroke="#111" stroke-width="1.1"/>
<line x1="317.5" y1="68.6" x2="319.1" y2="68.6" stroke="#111" stroke-width="1.1"/>
<line x1="516.5" y1="68.6" x2="514.9" y2="68.6" stroke="#111" stroke-width="1.1"/>
<line x1="317.5" y1="56.4" x2="320.5" y2="56.4" stroke="#111" stroke-width="1.1"/>
<line x1="516.5" y1="56.4" x2="513.5" y2="56.4" stroke="#111" stroke-width="1.1"/>
<line x1="317.5" y1="44.1" x2="319.1" y2="44.1" stroke="#111" stroke-width="1.1"/>
<line x1="516.5" y1="44.1" x2="514.9" y2="44.1" stroke="#111" stroke-width="1.1"/>
<line x1="317.5" y1="31.9" x2="320.5" y2="31.9" stroke="#111" stroke-width="1.1"/>
<line x1="516.5" y1="31.9" x2="513.5" y2="31.9" stroke="#111" stroke-width="1.1"/>
<line x1="317.5" y1="19.6" x2="319.1" y2="19.6" stroke="#111" stroke-width="1.1"/>
<line x1="516.5" y1="19.6" x2="514.9" y2="19.6" stroke="#111" stroke-width="1.1"/>
<text x="516.5" y="191.7" text-anchor="middle" class="tl">2</text>
<text x="483.3" y="191.7" text-anchor="middle" class="tl">4</text>
<text x="450.2" y="191.7" text-anchor="middle" class="tl">6</text>
<text x="417.0" y="191.7" text-anchor="middle" class="tl">8</text>
<text x="383.8" y="191.7" text-anchor="middle" class="tl">10</text>
<text x="350.7" y="191.7" text-anchor="middle" class="tl">12</text>
<text x="317.5" y="191.7" text-anchor="middle" class="tl">14</text>
<text transform="translate(314.7,182.1) scale(1.1,1)" text-anchor="end" class="tl">-0.2</text>
<text transform="translate(314.7,157.5) scale(1.1,1)" text-anchor="end" class="tl">0.0</text>
<text transform="translate(314.7,133.0) scale(1.1,1)" text-anchor="end" class="tl">0.2</text>
<text transform="translate(314.7,108.5) scale(1.1,1)" text-anchor="end" class="tl">0.4</text>
<text transform="translate(314.7,84.0) scale(1.1,1)" text-anchor="end" class="tl">0.6</text>
<text transform="translate(314.7,59.4) scale(1.1,1)" text-anchor="end" class="tl">0.8</text>
<text transform="translate(314.7,34.9) scale(1.1,1)" text-anchor="end" class="tl">1.0</text>
<text x="417.0" y="210.4" text-anchor="middle" class="at" textLength="106" lengthAdjust="spacingAndGlyphs">Binding energy (eV)</text>
<text transform="translate(283.7,94.3) rotate(-90)" text-anchor="middle" class="at" textLength="79.5" lengthAdjust="spacingAndGlyphs">Intensity (A.U.)</text>
<rect x="182.2" y="258.3" width="197.6" height="159.5" fill="none" stroke="#111" stroke-width="1.4"/>
<line x1="379.8" y1="417.8" x2="379.8" y2="414.8" stroke="#111" stroke-width="1.1"/>
<line x1="379.8" y1="258.3" x2="379.8" y2="261.3" stroke="#111" stroke-width="1.1"/>
<line x1="363.3" y1="417.8" x2="363.3" y2="416.2" stroke="#111" stroke-width="1.1"/>
<line x1="363.3" y1="258.3" x2="363.3" y2="259.90000000000003" stroke="#111" stroke-width="1.1"/>
<line x1="346.9" y1="417.8" x2="346.9" y2="414.8" stroke="#111" stroke-width="1.1"/>
<line x1="346.9" y1="258.3" x2="346.9" y2="261.3" stroke="#111" stroke-width="1.1"/>
<line x1="330.4" y1="417.8" x2="330.4" y2="416.2" stroke="#111" stroke-width="1.1"/>
<line x1="330.4" y1="258.3" x2="330.4" y2="259.90000000000003" stroke="#111" stroke-width="1.1"/>
<line x1="313.9" y1="417.8" x2="313.9" y2="414.8" stroke="#111" stroke-width="1.1"/>
<line x1="313.9" y1="258.3" x2="313.9" y2="261.3" stroke="#111" stroke-width="1.1"/>
<line x1="297.5" y1="417.8" x2="297.5" y2="416.2" stroke="#111" stroke-width="1.1"/>
<line x1="297.5" y1="258.3" x2="297.5" y2="259.90000000000003" stroke="#111" stroke-width="1.1"/>
<line x1="281.0" y1="417.8" x2="281.0" y2="414.8" stroke="#111" stroke-width="1.1"/>
<line x1="281.0" y1="258.3" x2="281.0" y2="261.3" stroke="#111" stroke-width="1.1"/>
<line x1="264.5" y1="417.8" x2="264.5" y2="416.2" stroke="#111" stroke-width="1.1"/>
<line x1="264.5" y1="258.3" x2="264.5" y2="259.90000000000003" stroke="#111" stroke-width="1.1"/>
<line x1="248.1" y1="417.8" x2="248.1" y2="414.8" stroke="#111" stroke-width="1.1"/>
<line x1="248.1" y1="258.3" x2="248.1" y2="261.3" stroke="#111" stroke-width="1.1"/>
<line x1="231.6" y1="417.8" x2="231.6" y2="416.2" stroke="#111" stroke-width="1.1"/>
<line x1="231.6" y1="258.3" x2="231.6" y2="259.90000000000003" stroke="#111" stroke-width="1.1"/>
<line x1="215.1" y1="417.8" x2="215.1" y2="414.8" stroke="#111" stroke-width="1.1"/>
<line x1="215.1" y1="258.3" x2="215.1" y2="261.3" stroke="#111" stroke-width="1.1"/>
<line x1="198.7" y1="417.8" x2="198.7" y2="416.2" stroke="#111" stroke-width="1.1"/>
<line x1="198.7" y1="258.3" x2="198.7" y2="259.90000000000003" stroke="#111" stroke-width="1.1"/>
<line x1="182.2" y1="417.8" x2="182.2" y2="414.8" stroke="#111" stroke-width="1.1"/>
<line x1="182.2" y1="258.3" x2="182.2" y2="261.3" stroke="#111" stroke-width="1.1"/>
<line x1="182.2" y1="417.8" x2="185.2" y2="417.8" stroke="#111" stroke-width="1.1"/>
<line x1="379.8" y1="417.8" x2="376.8" y2="417.8" stroke="#111" stroke-width="1.1"/>
<line x1="182.2" y1="405.5" x2="183.79999999999998" y2="405.5" stroke="#111" stroke-width="1.1"/>
<line x1="379.8" y1="405.5" x2="378.2" y2="405.5" stroke="#111" stroke-width="1.1"/>
<line x1="182.2" y1="393.3" x2="185.2" y2="393.3" stroke="#111" stroke-width="1.1"/>
<line x1="379.8" y1="393.3" x2="376.8" y2="393.3" stroke="#111" stroke-width="1.1"/>
<line x1="182.2" y1="381.0" x2="183.79999999999998" y2="381.0" stroke="#111" stroke-width="1.1"/>
<line x1="379.8" y1="381.0" x2="378.2" y2="381.0" stroke="#111" stroke-width="1.1"/>
<line x1="182.2" y1="368.7" x2="185.2" y2="368.7" stroke="#111" stroke-width="1.1"/>
<line x1="379.8" y1="368.7" x2="376.8" y2="368.7" stroke="#111" stroke-width="1.1"/>
<line x1="182.2" y1="356.5" x2="183.79999999999998" y2="356.5" stroke="#111" stroke-width="1.1"/>
<line x1="379.8" y1="356.5" x2="378.2" y2="356.5" stroke="#111" stroke-width="1.1"/>
<line x1="182.2" y1="344.2" x2="185.2" y2="344.2" stroke="#111" stroke-width="1.1"/>
<line x1="379.8" y1="344.2" x2="376.8" y2="344.2" stroke="#111" stroke-width="1.1"/>
<line x1="182.2" y1="331.9" x2="183.79999999999998" y2="331.9" stroke="#111" stroke-width="1.1"/>
<line x1="379.8" y1="331.9" x2="378.2" y2="331.9" stroke="#111" stroke-width="1.1"/>
<line x1="182.2" y1="319.6" x2="185.2" y2="319.6" stroke="#111" stroke-width="1.1"/>
<line x1="379.8" y1="319.6" x2="376.8" y2="319.6" stroke="#111" stroke-width="1.1"/>
<line x1="182.2" y1="307.4" x2="183.79999999999998" y2="307.4" stroke="#111" stroke-width="1.1"/>
<line x1="379.8" y1="307.4" x2="378.2" y2="307.4" stroke="#111" stroke-width="1.1"/>
<line x1="182.2" y1="295.1" x2="185.2" y2="295.1" stroke="#111" stroke-width="1.1"/>
<line x1="379.8" y1="295.1" x2="376.8" y2="295.1" stroke="#111" stroke-width="1.1"/>
<line x1="182.2" y1="282.8" x2="183.79999999999998" y2="282.8" stroke="#111" stroke-width="1.1"/>
<line x1="379.8" y1="282.8" x2="378.2" y2="282.8" stroke="#111" stroke-width="1.1"/>
<line x1="182.2" y1="270.6" x2="185.2" y2="270.6" stroke="#111" stroke-width="1.1"/>
<line x1="379.8" y1="270.6" x2="376.8" y2="270.6" stroke="#111" stroke-width="1.1"/>
<line x1="182.2" y1="258.3" x2="183.79999999999998" y2="258.3" stroke="#111" stroke-width="1.1"/>
<line x1="379.8" y1="258.3" x2="378.2" y2="258.3" stroke="#111" stroke-width="1.1"/>
<text x="379.8" y="430.5" text-anchor="middle" class="tl">2</text>
<text x="346.9" y="430.5" text-anchor="middle" class="tl">4</text>
<text x="313.9" y="430.5" text-anchor="middle" class="tl">6</text>
<text x="281.0" y="430.5" text-anchor="middle" class="tl">8</text>
<text x="248.1" y="430.5" text-anchor="middle" class="tl">10</text>
<text x="215.1" y="430.5" text-anchor="middle" class="tl">12</text>
<text x="182.2" y="430.5" text-anchor="middle" class="tl">14</text>
<text transform="translate(179.4,420.9) scale(1.1,1)" text-anchor="end" class="tl">-0.2</text>
<text transform="translate(179.4,396.3) scale(1.1,1)" text-anchor="end" class="tl">0.0</text>
<text transform="translate(179.4,371.8) scale(1.1,1)" text-anchor="end" class="tl">0.2</text>
<text transform="translate(179.4,347.2) scale(1.1,1)" text-anchor="end" class="tl">0.4</text>
<text transform="translate(179.4,322.7) scale(1.1,1)" text-anchor="end" class="tl">0.6</text>
<text transform="translate(179.4,298.2) scale(1.1,1)" text-anchor="end" class="tl">0.8</text>
<text transform="translate(179.4,273.6) scale(1.1,1)" text-anchor="end" class="tl">1.0</text>
<text x="281.0" y="449.2" text-anchor="middle" class="at" textLength="106" lengthAdjust="spacingAndGlyphs">Binding energy (eV)</text>
<text transform="translate(148.4,333.1) rotate(-90)" text-anchor="middle" class="at" textLength="79.5" lengthAdjust="spacingAndGlyphs">Intensity (A.U.)</text>
<line x1="48.9" y1="25.4" x2="64.5" y2="25.4" stroke="#1a1a1a" stroke-width="1.4"/>
<text x="66.6" y="27.8" class="lg">Bare start</text>
<line x1="48.9" y1="33.9" x2="64.5" y2="33.9" stroke="#c84a3e" stroke-width="1.4"/>
<text x="66.6" y="36.3" class="lg">Bare end</text>
<line x1="48.9" y1="42.4" x2="64.5" y2="42.4" stroke="#2d55b0" stroke-width="1.4"/>
<text x="66.6" y="44.8" class="lg">5 CY</text>
<line x1="48.9" y1="50.9" x2="64.5" y2="50.9" stroke="#3a9560" stroke-width="1.4"/>
<text x="66.6" y="53.3" class="lg">5 CY w/ PDA</text>
<line x1="48.9" y1="59.4" x2="64.5" y2="59.4" stroke="#a064d0" stroke-width="1.4"/>
<text x="66.6" y="61.8" class="lg">10 CY</text>
<line x1="48.9" y1="67.9" x2="64.5" y2="67.9" stroke="#c89530" stroke-width="1.4"/>
<text x="66.6" y="70.3" class="lg">10 CY w/ PDA</text>
<line x1="48.9" y1="76.4" x2="64.5" y2="76.4" stroke="#30c0c0" stroke-width="1.4"/>
<text x="66.6" y="78.8" class="lg">15 CY</text>
<line x1="48.9" y1="84.9" x2="64.5" y2="84.9" stroke="#4a2424" stroke-width="1.4"/>
<text x="66.6" y="87.3" class="lg">20 CY</text>
<line x1="321.1" y1="25.5" x2="336.7" y2="25.5" stroke="#1a1a1a" stroke-width="1.4"/>
<text x="338.8" y="27.9" class="lg">Bare</text>
<line x1="321.1" y1="34.0" x2="336.7" y2="34.0" stroke="#c84a3e" stroke-width="1.4"/>
<text x="338.8" y="36.4" class="lg">5 CY</text>
<line x1="321.1" y1="42.5" x2="336.7" y2="42.5" stroke="#2d55b0" stroke-width="1.4"/>
<text x="338.8" y="44.9" class="lg">5 CY 350C 5mins</text>
<line x1="321.1" y1="51.0" x2="336.7" y2="51.0" stroke="#3a9560" stroke-width="1.4"/>
<text x="338.8" y="53.4" class="lg">5 CY 650C 5mins</text>
<line x1="321.1" y1="59.5" x2="336.7" y2="59.5" stroke="#a064d0" stroke-width="1.4"/>
<text x="338.8" y="61.9" class="lg">10 CY</text>
<line x1="321.1" y1="68.0" x2="336.7" y2="68.0" stroke="#c89530" stroke-width="1.4"/>
<text x="338.8" y="70.4" class="lg">15 CY</text>
<line x1="321.1" y1="76.5" x2="336.7" y2="76.5" stroke="#30c0c0" stroke-width="1.4"/>
<text x="338.8" y="78.9" class="lg">20 CY</text>
<line x1="185.8" y1="264.2" x2="201.4" y2="264.2" stroke="#1a1a1a" stroke-width="1.4"/>
<text x="203.5" y="266.6" class="lg">Bare</text>
<line x1="185.8" y1="272.7" x2="201.4" y2="272.7" stroke="#c84a3e" stroke-width="1.4"/>
<text x="203.5" y="275.1" class="lg">3 CY</text>
<line x1="185.8" y1="281.2" x2="201.4" y2="281.2" stroke="#2d55b0" stroke-width="1.4"/>
<text x="203.5" y="283.6" class="lg">3 CY w/ PDA</text>
<line x1="185.8" y1="289.7" x2="201.4" y2="289.7" stroke="#3a9560" stroke-width="1.4"/>
<text x="203.5" y="292.1" class="lg">6 CY</text>
<line x1="185.8" y1="298.2" x2="201.4" y2="298.2" stroke="#a064d0" stroke-width="1.4"/>
<text x="203.5" y="300.6" class="lg">6 CY w/ PDA</text>
<line x1="185.8" y1="306.7" x2="201.4" y2="306.7" stroke="#c89530" stroke-width="1.4"/>
<text x="203.5" y="309.1" class="lg">9 CY</text>
<line x1="185.8" y1="315.2" x2="201.4" y2="315.2" stroke="#30c0c0" stroke-width="1.4"/>
<text x="203.5" y="317.6" class="lg">9 CY w/ PDA</text>
<line x1="119.4" y1="112.9" x2="82.1" y2="112.9" stroke="#3a5cc0" stroke-width="1.4"/><polygon points="78.3,112.9 83.1,110.5 83.1,115.3" fill="#3a5cc0"/>
<line x1="154.9" y1="119.6" x2="154.9" y2="47.8" stroke="#3a5cc0" stroke-width="1.5"/><polygon points="154.9,43.0 151.9,49.0 157.9,49.0" fill="#3a5cc0"/>
<line x1="369.8" y1="112.9" x2="395.5" y2="112.9" stroke="#3a5cc0" stroke-width="1.4"/><polygon points="399.3,112.9 394.5,110.5 394.5,115.3" fill="#3a5cc0"/>
<line x1="435.3" y1="106.0" x2="435.3" y2="52.3" stroke="#3a5cc0" stroke-width="1.5"/><polygon points="435.3,47.5 432.3,53.5 438.3,53.5" fill="#3a5cc0"/>
<line x1="261.7" y1="354.3" x2="224.6" y2="354.3" stroke="#3a5cc0" stroke-width="1.4"/><polygon points="220.8,354.3 225.6,351.9 225.6,356.7" fill="#3a5cc0"/>
<line x1="293.4" y1="348.0" x2="293.4" y2="294.8" stroke="#3a5cc0" stroke-width="1.5"/><polygon points="293.4,290.0 290.4,296.0 296.4,296.0" fill="#3a5cc0"/>
<text x="0.6" y="13.0" class="pl">(a)</text>
<text x="273.0" y="13.0" class="pl">(b)</text>
<text x="136.8" y="252.0" class="pl">(c)</text>
<text transform="translate(133.0,163.0) scale(0.955,1)" class="ann">Al<tspan font-size="11.2px" dy="3.9">2</tspan><tspan dy="-3.9">O</tspan><tspan font-size="11.2px" dy="3.9">3</tspan></text>
<text transform="translate(406.6,163.0) scale(0.955,1)" class="ann">HfO<tspan font-size="11.2px" dy="3.9">2</tspan></text>
<text transform="translate(235.2,402.2) scale(0.955,1)" class="ann">AlN/10 CY Al<tspan font-size="11.2px" dy="3.9">2</tspan><tspan dy="-3.9">O</tspan><tspan font-size="11.2px" dy="3.9">3</tspan></text>
</svg>
</body></html>
